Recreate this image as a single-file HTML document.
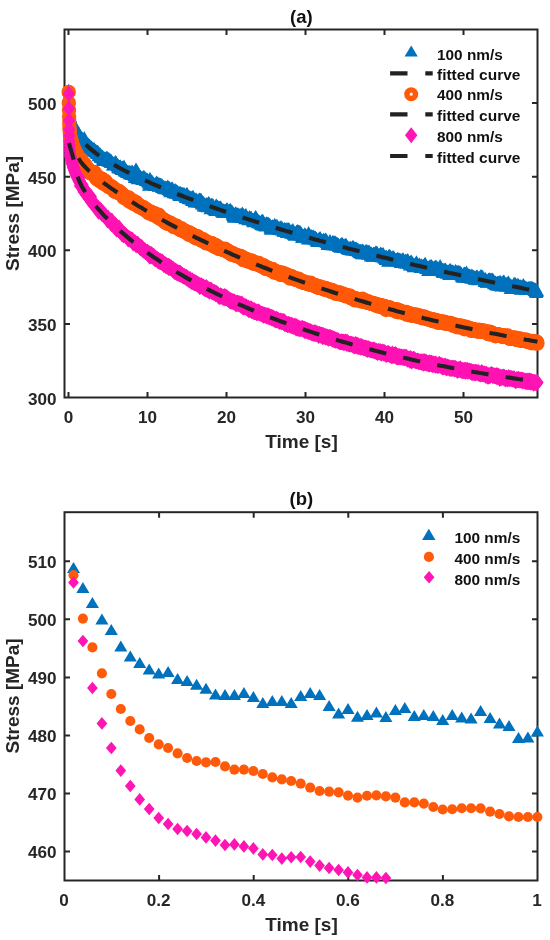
<!DOCTYPE html>
<html lang="en"><head><meta charset="utf-8"><title>Stress relaxation</title>
<style>
html,body{margin:0;padding:0;background:#fff;}
body{width:550px;height:940px;overflow:hidden;}
svg{display:block;}
text{font-family:"Liberation Sans",Arial,Helvetica,sans-serif;font-weight:bold;fill:#262626;}
.tk{font-size:17.1px;}
.lb{font-size:19px;}
.tt{font-size:18.5px;fill:#111;}
.lg{font-size:15.5px;fill:#111;}
</style></head><body>
<svg width="550" height="940" viewBox="0 0 550 940">
<defs>
<marker id="mt" markerUnits="userSpaceOnUse" markerWidth="14" markerHeight="12" refX="7" refY="6" overflow="visible"><path d="M7 -0.2L13.7 11.9H0.3Z" fill="#0072BD"/></marker>
<marker id="mc" markerUnits="userSpaceOnUse" markerWidth="16" markerHeight="16" refX="8" refY="8" overflow="visible"><circle cx="8" cy="8" r="4.45" fill="none" stroke="#FF5A0A" stroke-width="5.5"/></marker>
<marker id="md" markerUnits="userSpaceOnUse" markerWidth="12" markerHeight="16" refX="6" refY="8" overflow="visible"><path d="M6 0L12.2 8L6 16L-0.2 8Z" fill="#FF14B4"/></marker>
</defs>
<rect width="550" height="940" fill="#fff"/>

<g stroke="#262626" stroke-width="2" fill="none">
<rect x="64.5" y="29.5" width="473.0" height="368.0"/>
<path d="M68.5 397.5v-5.5 M68.5 29.5v5.5 M147.5 397.5v-5.5 M147.5 29.5v5.5 M226.5 397.5v-5.5 M226.5 29.5v5.5 M305.5 397.5v-5.5 M305.5 29.5v5.5 M384.5 397.5v-5.5 M384.5 29.5v5.5 M463.5 397.5v-5.5 M463.5 29.5v5.5 M64.5 323.9h5.5 M537.5 323.9h-5.5 M64.5 250.3h5.5 M537.5 250.3h-5.5 M64.5 176.7h5.5 M537.5 176.7h-5.5 M64.5 103.1h5.5 M537.5 103.1h-5.5"/>
</g>
<g id="chart-a">
<polyline fill="none" stroke="none" marker-start="url(#mt)" marker-mid="url(#mt)" marker-end="url(#mt)" points="68.7,89.9 68.8,95.1 69,98.8 69.1,103 69.3,105.7 69.4,109.9 69.6,112.4 69.8,114 69.9,115.7 70.1,116.7 70.2,116.3 70.4,118.1 70.6,118.6 70.7,119.5 70.9,120.6 71,122 71.2,122.1 71.3,122.1 71.5,121.6 71.7,122.6 71.8,124.2 72,123.7 72.1,123.7 72.3,124.2 72.5,122.4 72.6,121.7 72.8,122.2 72.9,124.9 73.1,126.9 73.2,125.7 73.4,127.7 73.6,127.2 73.7,126.6 73.9,127.7 74,125.9 74.2,125.4 74.3,127.5 74.5,127.2 74.7,127.5 74.8,128.5 75,127.6 75.1,128.3 75.3,128.6 75.5,128 75.6,129.1 75.8,129.9 75.9,130.3 76.1,131.1 76.2,131.1 76.4,131.2 76.6,132.6 76.7,131.7 76.9,131.3 77,133.6 77.2,134.5 77.3,132.5 77.5,133.4 77.7,134.9 77.8,134.4 78,135.7 78.1,133.3 78.3,134.2 78.5,132.6 78.6,135.8 78.8,133.7 78.9,132.7 79.1,135.1 79.2,135.1 79.4,136.9 79.6,134.8 79.7,135.3 79.9,135.9 80,137.3 80.2,136.5 80.3,138 80.5,137.9 80.7,137.4 80.8,137.9 81,138 81.1,137.4 81.3,139.3 81.5,137 81.6,139.4 81.8,139.2 81.9,138.3 82.1,138 82.2,138.9 82.4,139.9 82.6,140.7 82.7,140.7 82.9,141.6 83,140.5 83.2,141.2 83.4,139.6 83.5,141.5 83.7,140.7 83.8,139.7 84,140.9 84.1,140.2 84.3,137.3 84.5,140.5 84.6,139.7 84.8,142.7 84.9,144.6 85.1,142.1 85.2,142.7 85.4,142.7 85.6,143.4 85.7,143.7 85.9,144.5 86,142.6 86.2,144.9 86.4,142.5 86.5,143.6 86.7,144.5 86.8,144.2 87,143.1 87.1,143.6 87.3,144.1 87.5,144.5 87.6,145.5 87.8,143.1 87.9,144.4 88.1,144.2 88.2,144.2 88.4,144.4 88.6,145.6 88.7,145.2 88.9,145.9 89,146.1 89.2,147.5 89.4,144.8 89.5,147.9 89.7,146.8 89.8,147.2 90,146.7 90.1,145.8 90.3,147.1 90.5,146.8 90.6,147.7 90.8,146 90.9,148.5 91.1,147.6 91.3,147.1 91.4,147 91.6,147.2 91.7,147.4 91.9,148.2 92,148.9 92.2,148.7 92.4,147.6 92.7,148.5 92.9,148 93.1,148.9 93.4,150.7 93.6,149.8 93.9,149.1 94.1,148.2 94.3,149 94.6,148.9 94.8,151.3 95,150.3 95.3,151.1 95.5,150.2 95.8,151 96,152.3 96.2,150.5 96.5,151.2 96.7,151.2 96.9,153 97.2,151.4 97.4,151.4 97.7,151.2 97.9,151.2 98.1,153.1 98.4,155.3 98.6,152.5 98.8,154.5 99.1,154.2 99.3,153.2 99.5,154 99.8,154.1 100,154.1 100.3,156.8 100.5,153.7 100.7,156.2 101,156.3 101.2,155.5 101.4,156.3 101.7,156.9 101.9,156.3 102.2,157 102.4,157.6 102.6,155.6 102.9,159.1 103.1,160.2 103.3,159.1 103.6,159.1 103.8,157 104,158.3 104.3,157.7 104.5,158.4 104.8,160.2 105,158.7 105.2,159.4 105.5,157.6 105.7,158.5 105.9,158.5 106.2,157.7 106.4,157.4 106.7,159.8 106.9,157.2 107.1,157.3 107.4,157.5 107.6,159.8 107.8,160.7 108.1,159.3 108.3,158.5 108.6,158.6 108.8,159.8 109,158.2 109.3,160.6 109.5,160.8 109.7,160.1 110,160.9 110.2,161.1 110.4,161.8 110.7,159.5 110.9,161.5 111.2,160.4 111.4,160.6 111.6,161.9 111.9,162.2 112.1,162 112.3,161.8 112.6,162.1 112.8,164.3 113.1,164.6 113.3,163.3 113.5,163.7 113.8,162.4 114,163.2 114.2,163.9 114.5,162.8 114.7,162.9 115,163.7 115.2,162.6 115.4,161.2 115.7,162.3 115.9,161.7 116.1,163 116.4,162.8 116.6,163.5 116.8,164.3 117.1,164.5 117.3,164.5 117.6,165.1 117.8,166.3 118,166.6 118.3,167.5 118.5,164.9 118.7,166.2 119,166.2 119.2,166.7 119.5,166.1 119.7,166 119.9,167.2 120.2,166.6 120.4,165.5 120.6,168.1 120.9,168.1 121.1,167.1 121.4,168.9 121.6,167.7 121.8,169.2 122.1,167.9 122.3,167.1 122.5,167 122.8,166.7 123,167.7 123.2,167.9 123.5,168.1 123.7,168.1 124,165.7 124.2,169.6 124.4,168 124.7,170 124.9,170.8 125.1,169.9 125.4,169.3 125.6,169.8 125.9,170.4 126.1,170.4 126.3,170.6 126.6,170.4 126.8,172.2 127,171 127.3,171.9 127.5,170.9 127.7,171.4 128,171.4 128.2,172 128.5,172.4 128.7,171.9 128.9,171.2 129.2,171.2 129.4,173.3 129.6,171.6 129.9,171.5 130.1,173 130.4,172.8 130.6,172.5 130.8,171.6 131.1,174.1 131.3,172.3 131.5,172.4 131.8,171.6 132,170.8 132.3,171.3 132.5,173.4 132.7,173.7 133,173.5 133.2,172.9 133.4,172.5 133.7,173.4 133.9,172.6 134.1,174.8 134.4,175.2 134.6,177 134.9,175.6 135.1,174 135.3,173.5 135.6,171 135.8,173.5 136,173.8 136.3,175.3 136.5,175.7 136.8,176.1 137,176.5 137.2,177.5 137.5,178.3 137.7,175.9 137.9,176.3 138.2,175.1 138.4,177.6 138.7,177.3 138.9,176.9 139.1,175.3 139.4,176.6 139.6,176.1 139.8,176.4 140.1,176.2 140.3,177 140.5,176.3 140.8,177.8 141,177.5 141.3,177.1 141.5,177.6 141.7,177.7 142,179.1 142.2,178.4 142.4,179.1 142.7,178.1 142.9,176.6 143.2,178.2 143.4,176.3 143.6,177.7 143.9,177.7 144.1,176.3 144.3,177.2 144.6,177.6 144.8,177.6 145.1,177.7 145.3,179.7 145.5,179.3 145.8,180.2 146,179.3 146.2,179.7 146.5,178.5 146.7,178.9 146.9,179.4 147.2,179.2 147.4,179.3 147.7,179.2 147.9,181 148.1,181.5 148.4,181.1 148.6,180.5 148.8,181.5 149.1,182.8 149.3,179.9 149.6,180.4 149.8,180.4 150,178 150.3,180.9 150.5,180.3 150.7,182.4 151,181.2 151.2,180.6 151.4,181.2 151.7,181.9 151.9,181.5 152.2,182 152.4,181.1 152.6,182.1 152.9,182.8 153.1,183.9 153.3,183.1 153.6,183 153.8,184.1 154.1,184.5 154.3,185.2 154.5,184.8 154.8,183.8 155,184.3 155.2,184.3 155.5,184.8 155.7,184.6 156,183.7 156.2,182.2 156.4,183.3 156.7,181.7 156.9,183.8 157.1,184 157.4,182.6 157.6,184.9 157.8,185.2 158.1,184.3 158.3,185.6 158.6,185.8 158.8,182.9 159,184.9 159.3,184.3 159.5,184.5 159.7,185 160,183.7 160.2,184.1 160.5,184.1 160.7,184.2 160.9,185.1 161.2,184.1 161.4,184.7 161.6,186.6 161.9,186.3 162.1,187 162.4,184.9 162.6,186 162.8,186.2 163.1,186.8 163.3,186.3 163.5,187.8 163.8,187 164,187.1 164.2,187.1 164.5,187.8 164.7,186.8 165,188.3 165.2,187.5 165.4,187.1 165.7,186.7 165.9,187.3 166.1,187.7 166.4,187.7 166.6,187.4 166.9,188 167.1,187.2 167.3,188.3 167.6,187.3 167.8,185.6 168,188.9 168.3,188.2 168.5,187.3 168.8,188.3 169,187.6 169.2,190.3 169.5,188.9 169.7,187.1 169.9,189.3 170.2,189.1 170.4,191.4 170.6,189.3 170.9,188.5 171.1,190.6 171.4,190 171.6,189.8 171.8,187.8 172.1,189.9 172.3,191 172.5,187.8 172.8,190.9 173,189.7 173.3,192.3 173.5,190.6 173.7,190.1 174,191.4 174.2,190.7 174.4,190.1 174.7,191.3 174.9,190.3 175.1,189.1 175.4,192.8 175.6,190.8 175.9,190.9 176.1,192 176.3,190.4 176.6,190.4 176.8,191 177,190.9 177.3,191.5 177.5,192.6 177.8,191.5 178,192.7 178.2,193.3 178.5,192.3 178.7,193.9 178.9,193.2 179.2,195.1 179.4,194.3 179.7,193.6 179.9,192 180.1,193.1 180.4,192.2 180.6,193.8 180.8,193.3 181.1,193 181.3,194.7 181.5,194.5 181.8,193.2 182,194.8 182.3,193.4 182.5,193.5 182.7,194 183,193.3 183.2,193.6 183.4,193.8 183.7,195.2 183.9,195 184.2,193.5 184.4,195.3 184.6,194 184.9,194.8 185.1,195.6 185.3,195.2 185.6,197.2 185.8,195.3 186.1,193.9 186.3,196.3 186.5,194.9 186.8,195.2 187,193 187.2,196.9 187.5,196.9 187.7,197 187.9,197.2 188.2,198.1 188.4,196.5 188.7,197.7 188.9,196.4 189.1,196.9 189.4,198.4 189.6,197.9 189.8,196.3 190.1,198 190.3,197.6 190.6,197.2 190.8,198.5 191,198 191.3,197.2 191.5,197.7 191.7,200 192,196.7 192.2,198 192.5,197.8 192.7,197.4 192.9,195.9 193.2,196.9 193.4,197.6 193.6,198.9 193.9,198.6 194.1,198.6 194.3,201.1 194.6,201.5 194.8,200.7 195.1,199.4 195.3,200 195.5,199.4 195.8,200.1 196,198.5 196.2,200 196.5,200.1 196.7,199.5 197,200.8 197.2,200.9 197.4,200.7 197.7,201.6 197.9,200 198.1,201 198.4,201.1 198.6,200.7 198.8,201.2 199.1,198.9 199.3,198.8 199.6,200.5 199.8,200.6 200,201.9 200.3,200.4 200.5,199 200.7,200.6 201,199.3 201.2,199.4 201.5,203.7 201.7,201.8 201.9,202.2 202.2,202.1 202.4,203.2 202.6,201.8 202.9,203.3 203.1,202 203.4,202.2 203.6,205.3 203.8,205.6 204.1,204.6 204.3,204.1 204.5,204.1 204.8,203.2 205,205.3 205.2,204.8 205.5,204.9 205.7,204.7 206,205.5 206.2,205 206.4,205.2 206.7,203.3 206.9,204.9 207.1,206.3 207.4,203.7 207.6,204 207.9,204.9 208.1,204.9 208.3,204.2 208.6,202.2 208.8,204.2 209,202.8 209.3,203.3 209.5,205.2 209.8,204.8 210,206.1 210.2,208.3 210.5,206.3 210.7,206 210.9,204.5 211.2,204.5 211.4,204.1 211.6,204.6 211.9,204.2 212.1,204.7 212.4,205.4 212.6,204.7 212.8,204.4 213.1,204.7 213.3,206.7 213.5,206.8 213.8,208.3 214,208.9 214.3,208.2 214.5,209.2 214.7,207.1 215,210.2 215.2,208.9 215.4,207 215.7,205.7 215.9,206.8 216.2,204.6 216.4,205.2 216.6,206.5 216.9,206.1 217.1,206 217.3,207.6 217.6,206.3 217.8,207.9 218,207.3 218.3,206.9 218.5,208.1 218.8,206.7 219,209.3 219.2,207.1 219.5,209.7 219.7,207 219.9,208.5 220.2,206.8 220.4,206.6 220.7,208.1 220.9,208.8 221.1,207.4 221.4,210.3 221.6,209.3 221.8,210.5 222.1,211 222.3,211.4 222.5,209.2 222.8,212 223,211 223.3,210.3 223.5,210 223.7,209.5 224,210.1 224.2,212.1 224.4,211.1 224.7,210.1 224.9,210.3 225.2,211.9 225.4,210.1 225.6,209.7 225.9,211.5 226.1,210.7 226.3,210.2 226.6,209.3 226.8,208.5 227.1,208.6 227.3,209.3 227.5,209.7 227.8,210.5 228,211.1 228.2,211.7 228.5,212.1 228.7,211.2 228.9,210.1 229.2,211.1 229.4,210 229.7,209.9 229.9,210 230.1,209 230.4,209.4 230.6,210.5 230.8,211 231.1,210.5 231.3,211.9 231.6,211.4 231.8,210.8 232,211.7 232.3,213.5 232.5,211.4 232.7,213.6 233,214.7 233.2,215.6 233.5,214.1 233.7,216.8 233.9,215 234.2,214.3 234.4,214 234.6,214.3 234.9,213.6 235.1,213.2 235.3,214.4 235.6,212.6 235.8,212.5 236.1,214.4 236.3,214.7 236.5,215.6 236.8,213.7 237,215.6 237.2,215.2 237.5,216.3 237.7,213.4 238,215 238.2,214.9 238.4,213.8 238.7,214.7 238.9,216.6 239.1,214.9 239.4,214.4 239.6,215.6 239.9,215.6 240.1,215.4 240.3,214.1 240.6,215 240.8,216.5 241,215.2 241.3,215.3 241.5,216.6 241.7,217.2 242,214.4 242.2,212.8 242.5,213.5 242.7,213.6 242.9,214.2 243.2,215.1 243.4,214.8 243.6,214.9 243.9,216.2 244.1,215.6 244.4,216.5 244.6,215.7 244.8,218.3 245.1,216.3 245.3,214.6 245.5,214.5 245.8,215.3 246,214.5 246.2,215.6 246.5,216.2 246.7,218 247,217.3 247.2,217.4 247.4,217.3 247.7,217.6 247.9,218.7 248.1,218.4 248.4,219.3 248.6,217.5 248.9,218.6 249.1,217.9 249.3,217.8 249.6,216.1 249.8,216.7 250,218.8 250.3,219.1 250.5,217.8 250.8,218.2 251,217.3 251.2,217.4 251.5,217.4 251.7,219.2 251.9,219 252.2,219 252.4,219.2 252.6,220.4 252.9,220.4 253.1,219.5 253.4,221.4 253.6,219.8 253.8,219.3 254.1,220.4 254.3,219.7 254.5,218.8 254.8,219.2 255,217.4 255.3,217.6 255.5,216.2 255.7,219.3 256,216.6 256.2,219.3 256.4,218.4 256.7,218.6 256.9,219.6 257.2,220.4 257.4,221.1 257.6,222.3 257.9,221.1 258.1,221.4 258.3,220.2 258.6,221.2 258.8,220.9 259,220.8 259.3,221.7 259.5,221.9 259.8,222.4 260,222.8 260.2,222.2 260.5,221.9 260.7,223.5 260.9,221.5 261.2,222.5 261.4,224.3 261.7,220.3 261.9,221.9 262.1,222.8 262.4,220.5 262.6,224.3 262.8,219.9 263.1,223.9 263.3,224.3 263.6,224.2 263.8,223.5 264,224.3 264.3,223.3 264.5,225.1 264.7,223.7 265,224.5 265.2,225.5 265.4,223.5 265.7,224.1 265.9,224.2 266.2,222.8 266.4,225.1 266.6,224.3 266.9,222.5 267.1,223.9 267.3,223.1 267.6,223.2 267.8,223.7 268.1,223 268.3,224.7 268.5,223.3 268.8,224.8 269,224 269.2,225 269.5,223.9 269.7,224.5 269.9,224.4 270.2,226.7 270.4,227.6 270.7,228.8 270.9,227.9 271.1,226.8 271.4,226.1 271.6,226.4 271.8,226.1 272.1,227.4 272.3,227.1 272.6,225.5 272.8,225.8 273,227.5 273.3,226.6 273.5,226.1 273.7,227.2 274,225.6 274.2,225.7 274.5,225.4 274.7,224 274.9,227 275.2,225.5 275.4,226.2 275.6,226.1 275.9,227.6 276.1,226.6 276.3,226.6 276.6,225.2 276.8,226.6 277.1,225.3 277.3,227.2 277.5,227.2 277.8,226.7 278,228.8 278.2,227.6 278.5,227.6 278.7,227.6 279,227.8 279.2,229 279.4,229.1 279.7,227.1 279.9,229.2 280.1,228.4 280.4,228.7 280.6,228.2 280.9,226.5 281.1,226.6 281.3,229.5 281.6,228.2 281.8,227 282,229 282.3,228.9 282.5,228.1 282.7,228.1 283,229 283.2,230.7 283.5,230.5 283.7,230.2 283.9,230.6 284.2,230.6 284.4,228.1 284.6,229.5 284.9,228.8 285.1,228.4 285.4,229.3 285.6,229.9 285.8,229.9 286.1,229.2 286.3,230 286.5,232.1 286.8,229 287,228.3 287.3,229.8 287.5,230.1 287.7,230 288,228.8 288.2,230.6 288.4,228.9 288.7,228.4 288.9,228.8 289.1,229.3 289.4,230.3 289.6,230.8 289.9,230.8 290.1,232.1 290.3,231.6 290.6,232.7 290.8,230.6 291,230.4 291.3,232.5 291.5,230.5 291.8,231.2 292,231.3 292.2,230.9 292.5,231 292.7,232.6 292.9,229.3 293.2,232.5 293.4,233.9 293.6,232 293.9,232.3 294.1,233.4 294.4,234.8 294.6,232.6 294.8,233.8 295.1,233.6 295.3,234 295.5,233.3 295.8,233.4 296,232.2 296.3,232.3 296.5,231.3 296.7,231.1 297,231.2 297.2,231.1 297.4,230.1 297.7,233 297.9,231.6 298.2,230.6 298.4,232.9 298.6,231.1 298.9,231.7 299.1,231.2 299.3,231.5 299.6,231.7 299.8,231.6 300,232.8 300.3,234.9 300.5,231.4 300.8,233.6 301,234.3 301.2,233.2 301.5,233.3 301.7,236.8 301.9,234.8 302.2,236.9 302.4,235.4 302.7,234.8 302.9,235.4 303.1,235.4 303.4,236.1 303.6,235.5 303.8,235.2 304.1,234.9 304.3,235.9 304.6,235.3 304.8,233.5 305,233.9 305.3,235.2 305.5,234.6 305.7,235.2 306,235.1 306.2,235.8 306.4,236.1 306.7,236.4 306.9,235.4 307.2,237.3 307.4,235.5 307.6,238.7 307.9,236.8 308.1,236.2 308.3,234.7 308.6,232.3 308.8,234.4 309.1,234.7 309.3,236.6 309.5,234.5 309.8,238.1 310,236.9 310.2,238.4 310.5,235.6 310.7,237.7 311,237.2 311.2,237.7 311.4,236.7 311.7,235.3 311.9,237 312.1,236.4 312.4,236.4 312.6,236.7 312.8,237 313.1,236.4 313.3,235.7 313.6,235.9 313.8,238.7 314,238.1 314.3,237.5 314.5,236.8 314.7,237.2 315,237.2 315.2,237 315.5,236.9 315.7,239.7 315.9,238.3 316.2,238.2 316.4,237.9 316.6,238.7 316.9,240.6 317.1,241 317.3,239.9 317.6,240.3 317.8,240.1 318.1,239 318.3,240.7 318.5,239.7 318.8,241.2 319,238.1 319.2,238.5 319.5,239.5 319.7,238.4 320,237.2 320.2,237.7 320.4,238.9 320.7,239.3 320.9,239.4 321.1,240.9 321.4,241.2 321.6,240.7 321.9,240.5 322.1,240.1 322.3,240.7 322.6,241.1 322.8,240.3 323,240.6 323.3,240 323.5,238.9 323.7,239 324,240.6 324.2,240.4 324.5,241.3 324.7,239.9 324.9,240.5 325.2,240.5 325.4,240 325.6,238.7 325.9,239.3 326.1,240 326.4,239.7 326.6,241.5 326.8,242.2 327.1,241.2 327.3,244 327.5,242.4 327.8,242.9 328,243.4 328.3,243.2 328.5,244 328.7,243.2 329,244.2 329.2,242.7 329.4,242.1 329.7,241.1 329.9,240.3 330.1,241.7 330.4,241.4 330.6,243.4 330.9,242.9 331.1,244.4 331.3,243.6 331.6,243.6 331.8,242.9 332,242.6 332.3,242.7 332.5,242.7 332.8,241 333,242.2 333.2,244.3 333.5,242.2 333.7,242.2 333.9,242.1 334.2,241.4 334.4,243.6 334.7,242.6 334.9,242.6 335.1,243.8 335.4,244.5 335.6,241.7 335.8,243.4 336.1,243.3 336.3,243.4 336.5,243.6 336.8,243.1 337,244.7 337.3,243.7 337.5,243.3 337.7,244 338,244 338.2,243.9 338.4,244.1 338.7,246 338.9,245.5 339.2,245.4 339.4,245.1 339.6,245.9 339.9,245.5 340.1,246.5 340.3,246.5 340.6,244 340.8,245.5 341,245.7 341.3,244.8 341.5,243.5 341.8,245.3 342,243.5 342.2,243.1 342.5,243.7 342.7,245.2 342.9,246.5 343.2,246.9 343.4,246.1 343.7,244.8 343.9,245.4 344.1,245.4 344.4,246.1 344.6,244.8 344.8,246.4 345.1,246.4 345.3,245.2 345.6,245.6 345.8,244.2 346,243.9 346.3,245.3 346.5,247.3 346.7,247.4 347,246.4 347.2,248 347.4,246.5 347.7,248.3 347.9,247.7 348.2,247.3 348.4,248.9 348.6,248.1 348.9,248.2 349.1,247.7 349.3,248.9 349.6,248.1 349.8,247.6 350.1,247.2 350.3,248.7 350.5,247.1 350.8,247.1 351,249.1 351.2,249.5 351.5,249 351.7,247.4 352,248.4 352.2,249.4 352.4,248.5 352.7,249.2 352.9,246 353.1,247.8 353.4,246.7 353.6,248.6 353.8,248 354.1,249.5 354.3,248 354.6,247.4 354.8,247.9 355,248.1 355.3,247.6 355.5,249.8 355.7,250 356,248.9 356.2,248 356.5,248.8 356.7,248.3 356.9,250.4 357.2,249.8 357.4,250.2 357.6,249.9 357.9,248.8 358.1,250.2 358.4,249.8 358.6,251.3 358.8,251 359.1,250.2 359.3,250.6 359.5,252.4 359.8,250.1 360,250 360.2,250.5 360.5,250.1 360.7,250.6 361,251.9 361.2,253.4 361.4,250.3 361.7,251.8 361.9,251.4 362.1,250.7 362.4,249.9 362.6,249.7 362.9,251 363.1,250.3 363.3,251.2 363.6,252.1 363.8,252.6 364,252.5 364.3,253.3 364.5,252.1 364.7,251.9 365,251.6 365.2,250.6 365.5,250.7 365.7,250.5 365.9,251.7 366.2,250.7 366.4,250.5 366.6,251.8 366.9,252.2 367.1,250.4 367.4,253.6 367.6,252.2 367.8,252 368.1,253 368.3,251.8 368.5,251.1 368.8,253.5 369,250.6 369.3,251.8 369.5,253 369.7,251.7 370,253 370.2,253.8 370.4,255.7 370.7,252.8 370.9,253.5 371.1,254.2 371.4,253.7 371.6,252.8 371.9,254.8 372.1,254.8 372.3,255.3 372.6,255.8 372.8,255.4 373,254.3 373.3,254 373.5,252.6 373.8,253.6 374,254.1 374.2,253.6 374.5,254 374.7,253 374.9,254.7 375.2,254.8 375.4,252.3 375.7,252.6 375.9,251.8 376.1,253 376.4,252.2 376.6,251.9 376.8,252.2 377.1,253 377.3,252.7 377.5,254.8 377.8,254 378,255.1 378.3,254.9 378.5,256 378.7,254.9 379,255.7 379.2,254.1 379.4,255.3 379.7,254.2 379.9,254.4 380.2,254.3 380.4,255.1 380.6,252.6 380.9,255 381.1,253.9 381.3,256.4 381.6,253.5 381.8,254.6 382.1,253.9 382.3,256.4 382.5,253.6 382.8,254.9 383,254.4 383.2,253.3 383.5,255.2 383.7,256.6 383.9,256.2 384.2,257.5 384.4,256.9 384.7,257.3 384.9,257.1 385.1,257.8 385.4,259.1 385.6,257 385.8,256.7 386.1,255.9 386.3,255.9 386.6,258.1 386.8,256.7 387,257.4 387.3,258.6 387.5,258.5 387.7,260.8 388,256.6 388.2,258.5 388.4,258 388.7,255.6 388.9,255.4 389.2,255.8 389.4,256.9 389.6,255.2 389.9,255.3 390.1,258.3 390.3,259.7 390.6,258.6 390.8,257 391.1,260.3 391.3,258.6 391.5,259.3 391.8,257.8 392,257.3 392.2,257.1 392.5,258.9 392.7,259 393,256.1 393.2,257.3 393.4,259.6 393.7,257.6 393.9,256.8 394.1,258.3 394.4,258.5 394.6,259.3 394.8,259.3 395.1,259.6 395.3,259.4 395.6,260.1 395.8,258.9 396,259.4 396.3,259.5 396.5,260.6 396.7,259.5 397,258.6 397.2,258.7 397.5,258.2 397.7,258.8 397.9,258.4 398.2,259.8 398.4,259.6 398.6,258.6 398.9,258.4 399.1,259.7 399.4,259.8 399.6,259.7 399.8,259.1 400.1,259.2 400.3,261.5 400.5,261.8 400.8,261.5 401,259.3 401.2,261.4 401.5,259.9 401.7,260.8 402,261.3 402.2,260.4 402.4,260.2 402.7,258.8 402.9,259.7 403.1,258.5 403.4,260.5 403.6,260.6 403.9,261.9 404.1,261.9 404.3,261.5 404.6,262.5 404.8,261.6 405,262 405.3,261.3 405.5,259.7 405.8,260.6 406,260.8 406.2,260.6 406.5,261.8 406.7,262.6 406.9,260.7 407.2,260.8 407.4,259.3 407.6,261.3 407.9,261.3 408.1,259.9 408.4,262.1 408.6,262.7 408.8,262.1 409.1,262.8 409.3,262.8 409.5,264.6 409.8,262.3 410,262.7 410.3,264.2 410.5,261.8 410.7,261.9 411,261.3 411.2,260.7 411.4,261.9 411.7,262.7 411.9,261.7 412.1,263.3 412.4,264.6 412.6,265.1 412.9,263.1 413.1,264.1 413.3,263.8 413.6,266.3 413.8,265.7 414,265.9 414.3,264.5 414.5,264.1 414.8,265.4 415,265.5 415.2,264.5 415.5,265.1 415.7,265.3 415.9,264.3 416.2,262.8 416.4,261.5 416.7,263 416.9,263.4 417.1,263.4 417.4,263.6 417.6,263.9 417.8,265.5 418.1,265.3 418.3,265.6 418.5,264.6 418.8,264.6 419,265.1 419.3,264.1 419.5,263.8 419.7,264.7 420,266.5 420.2,265.9 420.4,266.9 420.7,265.6 420.9,265.4 421.2,264.4 421.4,265.1 421.6,266.9 421.9,265.9 422.1,266.3 422.3,266.3 422.6,265.5 422.8,265.5 423.1,265.7 423.3,266.3 423.5,266.1 423.8,266 424,265.3 424.2,264.3 424.5,264.3 424.7,263.6 424.9,265.5 425.2,262.9 425.4,265 425.7,267.8 425.9,265.7 426.1,265.4 426.4,266.8 426.6,268.1 426.8,267 427.1,267.8 427.3,267.3 427.6,266.9 427.8,270.2 428,267.3 428.3,266.8 428.5,266.9 428.7,267.6 429,267.4 429.2,267.9 429.5,267.2 429.7,265.7 429.9,267.5 430.2,266.9 430.4,266.7 430.6,265.4 430.9,266.1 431.1,265.7 431.3,266.1 431.6,265.1 431.8,267.1 432.1,267.6 432.3,267.2 432.5,268.3 432.8,268.4 433,270.1 433.2,267.2 433.5,268.9 433.7,267.4 434,268.3 434.2,268.9 434.4,267.1 434.7,267.5 434.9,266.4 435.1,268.6 435.4,267.7 435.6,268 435.8,265.8 436.1,266.1 436.3,268.4 436.6,267.4 436.8,267.5 437,268.3 437.3,267.1 437.5,269 437.7,268.6 438,269.3 438.2,268.3 438.5,269.4 438.7,268.6 438.9,270 439.2,269.9 439.4,269.6 439.6,268.9 439.9,268.4 440.1,265.2 440.4,268.3 440.6,267.3 440.8,267.9 441.1,268 441.3,267.4 441.5,268.5 441.8,270 442,271.1 442.2,269.5 442.5,269.5 442.7,271.8 443,269.5 443.2,272 443.4,270.1 443.7,269.1 443.9,270.9 444.1,271.8 444.4,269 444.6,271.8 444.9,270.2 445.1,271.5 445.3,269.8 445.6,268.7 445.8,270.7 446,271.2 446.3,272.6 446.5,272.3 446.8,271.4 447,270.8 447.2,270.9 447.5,271.5 447.7,271.5 447.9,272.5 448.2,270.4 448.4,272.7 448.6,272.1 448.9,274 449.1,271.7 449.4,270.4 449.6,271.1 449.8,269.5 450.1,270 450.3,269.2 450.5,272.3 450.8,271.6 451,270.1 451.3,271.2 451.5,272.1 451.7,271.6 452,271.6 452.2,270.6 452.4,270.8 452.7,271.6 452.9,272.5 453.2,271.2 453.4,271.3 453.6,273.7 453.9,272.1 454.1,274.2 454.3,273.2 454.6,273.3 454.8,273.6 455,272.1 455.3,271.7 455.5,270.2 455.8,270.5 456,272 456.2,273 456.5,272.9 456.7,273.7 456.9,271.9 457.2,271.7 457.4,272.3 457.7,271.5 457.9,271.6 458.1,270.9 458.4,273.1 458.6,271.7 458.8,273.4 459.1,271.8 459.3,273.8 459.5,271.9 459.8,273.5 460,271.4 460.3,272.4 460.5,274.4 460.7,272.9 461,274.1 461.2,274 461.4,272.9 461.7,275.6 461.9,276 462.2,274.8 462.4,276.5 462.6,275.2 462.9,274.8 463.1,275.5 463.3,274.6 463.6,276.8 463.8,273.1 464.1,275.1 464.3,275.4 464.5,272.6 464.8,273 465,275.1 465.2,274 465.5,274.6 465.7,275.3 465.9,273.9 466.2,273.1 466.4,271.8 466.7,274.4 466.9,273.6 467.1,274.8 467.4,275.1 467.6,273.7 467.8,276.8 468.1,276.4 468.3,276.4 468.6,274.5 468.8,275.4 469,275.3 469.3,275.2 469.5,274.6 469.7,276.2 470,276.1 470.2,276.4 470.5,276 470.7,277.6 470.9,276.8 471.2,274.6 471.4,276.6 471.6,277 471.9,277.6 472.1,276.1 472.3,275.7 472.6,275.1 472.8,276.5 473.1,276 473.3,276.3 473.5,276.8 473.8,278.3 474,277.4 474.2,276.4 474.5,278.6 474.7,277.1 475,277.9 475.2,278 475.4,278.7 475.7,278.2 475.9,276.7 476.1,277.1 476.4,275.8 476.6,278.3 476.9,277.3 477.1,278.5 477.3,277.1 477.6,275.9 477.8,279.4 478,278.2 478.3,278.3 478.5,278.4 478.7,279 479,278.9 479.2,276.9 479.5,278.9 479.7,277.1 479.9,277 480.2,278.7 480.4,277.7 480.6,276.7 480.9,275.2 481.1,276.8 481.4,277.2 481.6,276.5 481.8,275.6 482.1,276.2 482.3,275.9 482.5,277.4 482.8,278.3 483,278.5 483.2,277.2 483.5,278.4 483.7,279 484,278.1 484.2,279 484.4,281.2 484.7,279.7 484.9,280.5 485.1,279.6 485.4,279.9 485.6,278.3 485.9,279.8 486.1,281 486.3,281.8 486.6,281.3 486.8,281.3 487,280.9 487.3,280.4 487.5,280.9 487.8,281.3 488,279.7 488.2,281.2 488.5,279.3 488.7,278.7 488.9,279.4 489.2,278.6 489.4,278.7 489.6,280.8 489.9,279.3 490.1,279.4 490.4,280.3 490.6,280.3 490.8,278.7 491.1,280.6 491.3,280 491.5,279.8 491.8,280.3 492,278.6 492.3,279 492.5,279.4 492.7,280 493,279.3 493.2,280 493.4,281.5 493.7,282.6 493.9,282.5 494.2,283.3 494.4,281.8 494.6,281.8 494.9,282.2 495.1,281.8 495.3,281.8 495.6,284 495.8,282.6 496,282.1 496.3,283.4 496.5,284.6 496.8,282.9 497,283.8 497.2,282.3 497.5,282.2 497.7,282.2 497.9,282.7 498.2,284.6 498.4,282 498.7,284.5 498.9,282 499.1,282.5 499.4,283.2 499.6,282.8 499.8,282.4 500.1,280.9 500.3,282.9 500.6,282 500.8,285.5 501,283.2 501.3,283.5 501.5,282.5 501.7,283.1 502,282.4 502.2,284.2 502.4,283 502.7,283.3 502.9,281.7 503.2,281.7 503.4,283.3 503.6,281 503.9,280.7 504.1,283.1 504.3,281.9 504.6,283 504.8,284.9 505.1,283.5 505.3,285.3 505.5,284 505.8,285.7 506,285.3 506.2,283.6 506.5,283.7 506.7,283.2 506.9,284.2 507.2,285.2 507.4,282.8 507.7,284.7 507.9,282.6 508.1,282.8 508.4,281.7 508.6,285.2 508.8,283.6 509.1,284.1 509.3,283.7 509.6,285.8 509.8,283.7 510,285.9 510.3,288 510.5,285.7 510.7,286.1 511,286.4 511.2,284.9 511.5,285.9 511.7,286.8 511.9,286.1 512.2,286.2 512.4,285.7 512.6,286 512.9,285.7 513.1,286.8 513.3,286.4 513.6,285.4 513.8,283.5 514.1,286.3 514.3,286.1 514.5,284.1 514.8,282.9 515,283.5 515.2,285.3 515.5,283.5 515.7,284.2 516,285.1 516.2,286.2 516.4,285.1 516.7,285.3 516.9,285 517.1,286.8 517.4,286.3 517.6,285.2 517.9,284 518.1,284.5 518.3,286 518.6,285 518.8,286.7 519,286.2 519.3,286.3 519.5,286.6 519.7,286.5 520,285.2 520.2,286.1 520.5,288.8 520.7,285.7 520.9,286.7 521.2,288.3 521.4,287 521.6,286.4 521.9,286 522.1,287.4 522.4,287.3 522.6,287.3 522.8,285.8 523.1,286.3 523.3,284.3 523.5,285.7 523.8,285.1 524,286.2 524.3,287.3 524.5,287.9 524.7,286.4 525,288.7 525.2,287.4 525.4,286.9 525.7,287.7 525.9,286.6 526.1,288.1 526.4,288.3 526.6,288 526.9,289 527.1,288.6 527.3,289 527.6,287.8 527.8,289 528,287.7 528.3,288 528.5,288.2 528.8,288.5 529,287 529.2,287.2 529.5,287.9 529.7,288.1 529.9,287.7 530.2,288 530.4,288.2 530.6,287.7 530.9,287.7 531.1,287 531.4,287.2 531.6,287.7 531.8,288.3 532.1,288.1 532.3,287.7 532.5,287.5 532.8,288.3 533,288.1 533.3,288.4 533.5,288.7 533.7,288.3 534,288.1 534.2,289.8 534.4,289.8 534.7,289.3 534.9,289.1 535.2,291.5 535.4,288.7 535.6,289.5 535.9,290.3 536.1,289.3 536.3,290.6 536.6,292.2 536.8,291.1 537,290.5 537.3,290.3"/>
<path fill="#0072BD" d="M148.6 179.4l6.7 11.3h-13.4zM136 162.4l6.7 11.3h-13.4z"/>
<polyline fill="none" stroke="#222" stroke-width="4.1" stroke-dasharray="17.4 17.4" stroke-dashoffset="2.14" points="68.5,117.5 68.9,119.5 69.3,121.3 69.7,122.7 70.1,123.8 70.5,124.7 70.9,125.5 71.3,126.2 71.7,126.9 72.1,127.4 72.5,127.9 72.8,128.3 73.2,128.8 73.6,129.1 74,129.5 74.4,129.9 74.8,130.3 75.2,130.8 75.6,131.3 76,131.9 76.4,132.6 76.8,133.2 77.2,133.8 77.6,134.4 78,135 78.4,135.6 78.8,136.2 79.2,136.7 79.6,137.3 80,137.8 80.3,138.3 80.7,138.8 81.1,139.3 81.5,139.8 81.9,140.3 82.3,140.7 82.7,141.2 83.1,141.6 83.5,142.1 83.9,142.5 84.3,142.9 84.7,143.4 85.1,143.8 85.5,144.2 85.9,144.6 86.3,145 86.7,145.4 87.1,145.7 87.5,146.1 87.9,146.5 88.2,146.9 88.6,147.2 89,147.6 89.4,147.9 89.8,148.3 90.2,148.6 90.6,149 91,149.3 91.4,149.6 91.8,150 92.2,150.3 94.6,152.2 96.9,154 99.3,155.7 101.7,157.3 104,158.9 106.4,160.4 108.8,161.8 111.2,163.2 113.5,164.6 115.9,165.9 118.3,167.2 120.6,168.5 123,169.8 125.4,171 127.7,172.2 130.1,173.4 132.5,174.5 134.9,175.7 137.2,176.8 139.6,177.9 142,179 144.3,180.1 146.7,181.2 149.1,182.2 151.4,183.3 153.8,184.3 156.2,185.3 158.6,186.3 160.9,187.3 163.3,188.3 165.7,189.3 168,190.3 170.4,191.2 172.8,192.2 175.1,193.2 177.5,194.1 179.9,195 182.3,196 184.6,196.9 187,197.8 189.4,198.7 191.7,199.6 194.1,200.5 196.5,201.4 198.8,202.2 201.2,203.1 203.6,204 206,204.8 208.3,205.7 210.7,206.5 213.1,207.4 215.4,208.2 217.8,209 220.2,209.9 222.5,210.7 224.9,211.5 227.3,212.3 229.7,213.1 232,213.9 234.4,214.7 236.8,215.5 239.1,216.3 241.5,217.1 243.9,217.9 246.2,218.6 248.6,219.4 251,220.2 253.4,220.9 255.7,221.7 258.1,222.4 260.5,223.2 262.8,223.9 265.2,224.7 267.6,225.4 269.9,226.1 272.3,226.9 274.7,227.6 277.1,228.3 279.4,229 281.8,229.7 284.2,230.4 286.5,231.1 288.9,231.8 291.3,232.5 293.6,233.2 296,233.9 298.4,234.6 300.8,235.3 303.1,236 305.5,236.7 307.9,237.3 310.2,238 312.6,238.7 315,239.4 317.3,240 319.7,240.7 322.1,241.3 324.5,242 326.8,242.6 329.2,243.3 331.6,243.9 333.9,244.6 336.3,245.2 338.7,245.9 341,246.5 343.4,247.1 345.8,247.7 348.2,248.4 350.5,249 352.9,249.6 355.3,250.2 357.6,250.8 360,251.5 362.4,252.1 364.7,252.7 367.1,253.3 369.5,253.9 371.9,254.5 374.2,255.1 376.6,255.7 379,256.3 381.3,256.9 383.7,257.4 386.1,258 388.4,258.6 390.8,259.2 393.2,259.8 395.6,260.3 397.9,260.9 400.3,261.5 402.7,262.1 405,262.6 407.4,263.2 409.8,263.8 412.1,264.3 414.5,264.9 416.9,265.4 419.3,266 421.6,266.5 424,267.1 426.4,267.6 428.7,268.2 431.1,268.7 433.5,269.3 435.8,269.8 438.2,270.3 440.6,270.9 443,271.4 445.3,271.9 447.7,272.5 450.1,273 452.4,273.5 454.8,274 457.2,274.6 459.5,275.1 461.9,275.6 464.3,276.1 466.7,276.6 469,277.1 471.4,277.7 473.8,278.2 476.1,278.7 478.5,279.2 480.9,279.7 483.2,280.2 485.6,280.7 488,281.2 490.4,281.7 492.7,282.2 495.1,282.7 497.5,283.2 499.8,283.6 502.2,284.1 504.6,284.6 506.9,285.1 509.3,285.6 511.7,286.1 514.1,286.5 516.4,287 518.8,287.5 521.2,288 523.5,288.5 525.9,288.9 528.3,289.4 530.6,289.9 533,290.3 535.4,290.8 537.4,291.2"/>
<polyline fill="none" stroke="none" marker-start="url(#mc)" marker-mid="url(#mc)" marker-end="url(#mc)" points="68.7,91.9 68.8,102.9 69,110.2 69.1,116.8 69.3,122 69.4,125.8 69.6,128.9 69.8,131 69.9,133.2 70.1,134.8 70.2,135.7 70.4,137.1 70.6,138.3 70.7,139 70.9,139.4 71,139.3 71.2,140.4 71.3,141.2 71.5,141.2 71.7,141.6 71.8,142.3 72,143.2 72.1,143.7 72.3,144.1 72.5,144.8 72.6,145.8 72.8,146.6 72.9,146.8 73.1,147 73.2,147.8 73.4,148.3 73.6,147.9 73.7,147.8 73.9,148 74,148.3 74.2,149.5 74.3,149.5 74.5,149.8 74.7,150.7 74.8,151.2 75,151.3 75.1,151.2 75.3,151.4 75.5,151.7 75.6,152.3 75.8,152.8 75.9,153.2 76.1,153.5 76.2,153.9 76.4,154.2 76.6,155.2 76.7,155.7 76.9,154.3 77,157.2 77.2,155.2 77.3,157.4 77.5,156.9 77.7,156 77.8,158.4 78,157.3 78.1,157.6 78.3,158 78.5,157.8 78.6,157.7 78.8,159 78.9,158.3 79.1,159.1 79.2,158.5 79.4,157.9 79.6,159.2 79.7,159.7 79.9,160.7 80,162.3 80.2,159.4 80.3,161.6 80.5,159.1 80.7,160.4 80.8,160.9 81,159.2 81.1,159.8 81.3,162.1 81.5,162.2 81.6,162.2 81.8,161.7 81.9,164.9 82.1,162.6 82.2,162.1 82.4,165.1 82.6,164.2 82.7,163.4 82.9,165.3 83,164.4 83.2,165 83.4,164.7 83.5,163.4 83.7,165.7 83.8,165 84,163.9 84.1,164.1 84.3,166 84.5,164.5 84.6,165 84.8,165.8 84.9,165.6 85.1,164.3 85.2,166.9 85.4,167.4 85.6,167.6 85.7,168.4 85.9,167.1 86,167.8 86.2,168.9 86.4,167.1 86.5,169.5 86.7,169.9 86.8,169.1 87,170.3 87.1,169.6 87.3,168 87.5,170.3 87.6,169.6 87.8,170 87.9,169.9 88.1,171.2 88.2,170.5 88.4,169.3 88.6,170.6 88.7,171.2 88.9,170 89,170.5 89.2,170.7 89.4,170.6 89.5,171.5 89.7,172.2 89.8,173.1 90,172.5 90.1,172.4 90.3,172.6 90.5,172.7 90.6,171.1 90.8,172.2 90.9,172 91.1,171.7 91.3,171.6 91.4,171.8 91.6,172.3 91.7,171.6 91.9,173.5 92,173.1 92.2,173.3 92.5,173.8 92.8,174.3 93.1,173.3 93.5,173.8 93.8,172.4 94.1,171.9 94.4,172.4 94.7,176 95,173.2 95.4,176 95.7,177.5 96,176 96.3,178.4 96.6,178.8 96.9,178 97.3,179.5 97.6,178 97.9,176.9 98.2,178.4 98.5,177.8 98.8,177.2 99.2,177.5 99.5,181.2 99.8,178.6 100.1,179.2 100.4,178.6 100.7,179.3 101,179 101.4,179.1 101.7,178.6 102,178.9 102.3,180.1 102.6,181.5 102.9,183.4 103.3,182.9 103.6,183.7 103.9,182.6 104.2,182.2 104.5,181.1 104.8,182.4 105.2,180.7 105.5,182.6 105.8,184.6 106.1,183.7 106.4,184.8 106.7,183.8 107.1,183.2 107.4,184.2 107.7,184.6 108,186.2 108.3,187 108.6,184.9 108.9,185.6 109.3,186.1 109.6,186.3 109.9,185.9 110.2,187.3 110.5,187.7 110.8,187.9 111.2,186.6 111.5,187.6 111.8,186.4 112.1,189 112.4,187.7 112.7,188.7 113.1,188.8 113.4,188.9 113.7,188.7 114,188.2 114.3,191.3 114.6,190.3 115,190.4 115.3,192 115.6,190.3 115.9,191 116.2,190.7 116.5,191.9 116.8,191.6 117.2,191.6 117.5,191.4 117.8,192 118.1,193 118.4,190.6 118.7,192.5 119.1,192.4 119.4,192.7 119.7,191.5 120,193.9 120.3,192.8 120.6,193.6 121,193.7 121.3,193.1 121.6,194.4 121.9,193.6 122.2,194.7 122.5,195.4 122.9,195.8 123.2,196 123.5,196 123.8,198 124.1,196.9 124.4,195.8 124.7,196.5 125.1,196.7 125.4,197.2 125.7,196.9 126,196.9 126.3,199 126.6,198 127,198 127.3,198.2 127.6,198.5 127.9,200.1 128.2,199.7 128.5,200.5 128.9,197.5 129.2,200.4 129.5,201 129.8,201.9 130.1,200.4 130.4,199.2 130.8,201.1 131.1,200.3 131.4,199.6 131.7,200.8 132,202.3 132.3,202.6 132.6,202.4 133,201.1 133.3,203.8 133.6,201.1 133.9,202.1 134.2,201.3 134.5,203.7 134.9,203.3 135.2,203.8 135.5,203.3 135.8,203.3 136.1,203.6 136.4,202.3 136.8,204.8 137.1,205.1 137.4,204.5 137.7,205.1 138,205.6 138.3,206.7 138.7,205.9 139,205.8 139.3,205.7 139.6,205.2 139.9,206.1 140.2,206.9 140.5,206.9 140.9,207.2 141.2,207.8 141.5,207.7 141.8,207.7 142.1,208.1 142.4,208 142.8,208 143.1,208.6 143.4,207.1 143.7,209.3 144,207.5 144.3,209.1 144.7,208.6 145,209.5 145.3,209 145.6,208.6 145.9,210.5 146.2,210.3 146.6,210.7 146.9,211 147.2,211.8 147.5,211.8 147.8,211.5 148.1,210.3 148.4,211.3 148.8,211.9 149.1,213.4 149.4,212.6 149.7,212.4 150,213.4 150.3,212.5 150.7,212.6 151,212.8 151.3,211.8 151.6,213.8 151.9,213.7 152.2,213.4 152.6,213 152.9,214.1 153.2,215.1 153.5,213.7 153.8,213.6 154.1,214.8 154.5,213.6 154.8,213.3 155.1,214.8 155.4,214.9 155.7,215.4 156,215.4 156.3,216.2 156.7,216 157,215.9 157.3,216.2 157.6,217.1 157.9,217.5 158.2,217.6 158.6,217.5 158.9,214.8 159.2,216.5 159.5,217.2 159.8,217.7 160.1,216.7 160.5,219.2 160.8,218.7 161.1,218.3 161.4,219.1 161.7,218.9 162,218.7 162.4,219.7 162.7,219.3 163,218.9 163.3,219.7 163.6,220.3 163.9,219.9 164.2,221.7 164.6,220.2 164.9,222.3 165.2,221.9 165.5,220.8 165.8,221.7 166.1,222.6 166.5,221.7 166.8,221.2 167.1,222.3 167.4,223.8 167.7,221.6 168,223.3 168.4,223.1 168.7,223.1 169,223.1 169.3,223.2 169.6,224.2 169.9,224.1 170.3,223 170.6,224.7 170.9,222.9 171.2,224.3 171.5,224.1 171.8,225 172.1,224.6 172.5,225.2 172.8,224.7 173.1,225.7 173.4,225.5 173.7,227.1 174,225.5 174.4,226.9 174.7,226.5 175,226.3 175.3,225.9 175.6,226.7 175.9,225.6 176.3,225.8 176.6,227.4 176.9,226 177.2,228 177.5,227 177.8,227.5 178.2,227.5 178.5,227.9 178.8,227.8 179.1,228 179.4,228.4 179.7,229.5 180,229.8 180.4,230 180.7,229.5 181,229.2 181.3,228.2 181.6,229.8 181.9,230.1 182.3,229.5 182.6,230.5 182.9,231 183.2,230.5 183.5,231.4 183.8,231.1 184.2,230.1 184.5,231.2 184.8,231.3 185.1,232.1 185.4,231.2 185.7,231.5 186.1,231.3 186.4,232.1 186.7,232.3 187,233 187.3,233 187.6,232.8 187.9,233.1 188.3,233.3 188.6,233.7 188.9,234.8 189.2,232.3 189.5,233.9 189.8,234.2 190.2,234.7 190.5,233.4 190.8,234.6 191.1,235.1 191.4,234.6 191.7,233.8 192.1,234.9 192.4,234.4 192.7,235.7 193,234.8 193.3,236.6 193.6,235.7 194,235.4 194.3,235.8 194.6,235.6 194.9,236.9 195.2,237.8 195.5,236.9 195.8,237.7 196.2,236.6 196.5,237.4 196.8,238.6 197.1,236.3 197.4,238.1 197.7,238.2 198.1,236.5 198.4,237 198.7,237.4 199,238.9 199.3,238.1 199.6,238.5 200,239.3 200.3,239.2 200.6,239.5 200.9,239.4 201.2,240.4 201.5,239.2 201.9,240.8 202.2,239.6 202.5,239.4 202.8,240.5 203.1,240.6 203.4,239.3 203.7,240.9 204.1,240.1 204.4,240.7 204.7,241.9 205,240.9 205.3,241.9 205.6,241.7 206,243.3 206.3,242.2 206.6,241.7 206.9,241.9 207.2,242 207.5,242.6 207.9,242.5 208.2,243.2 208.5,242.9 208.8,243.1 209.1,243.4 209.4,243.3 209.8,243.8 210.1,244.1 210.4,244.3 210.7,243.6 211,243 211.3,243.9 211.6,244.8 212,243.2 212.3,244.7 212.6,245.3 212.9,244.6 213.2,244.3 213.5,246.1 213.9,246 214.2,245.1 214.5,246.2 214.8,246.3 215.1,244.9 215.4,247.4 215.8,245.3 216.1,246 216.4,245.7 216.7,246.7 217,245.9 217.3,247 217.7,247.8 218,247.4 218.3,247.3 218.6,248.7 218.9,247.4 219.2,248.8 219.5,248.2 219.9,248.6 220.2,248.6 220.5,248.8 220.8,248.7 221.1,248.4 221.4,248.7 221.8,249.5 222.1,249.4 222.4,248.9 222.7,249.3 223,249.5 223.3,249.9 223.7,250.1 224,250.2 224.3,249.8 224.6,250.4 224.9,249.7 225.2,248.8 225.6,250.6 225.9,249.7 226.2,250.2 226.5,250.1 226.8,251.4 227.1,250.4 227.4,251.4 227.8,251.2 228.1,250.9 228.4,250.9 228.7,252.3 229,252.4 229.3,252.7 229.7,253.5 230,252.7 230.3,253 230.6,253 230.9,253.3 231.2,253.2 231.6,253 231.9,254.9 232.2,252.7 232.5,254.1 232.8,254.4 233.1,254.3 233.5,253.7 233.8,254.4 234.1,254.5 234.4,254.4 234.7,255.3 235,255.3 235.3,255.2 235.7,255.9 236,254.8 236.3,255.7 236.6,255 236.9,255.8 237.2,255.8 237.6,256.1 237.9,255.6 238.2,255.8 238.5,255.8 238.8,256.5 239.1,256.9 239.5,257.3 239.8,256.5 240.1,257.1 240.4,256.2 240.7,256 241,257 241.4,257.2 241.7,256.8 242,256.9 242.3,258.6 242.6,258 242.9,257.5 243.2,260.1 243.6,258.9 243.9,258.7 244.2,259.3 244.5,258.6 244.8,260.1 245.1,258.4 245.5,258.7 245.8,259.7 246.1,259.4 246.4,261 246.7,259.2 247,259.8 247.4,260.5 247.7,260.7 248,261 248.3,260.6 248.6,261.7 248.9,260.1 249.3,260.5 249.6,261 249.9,260.5 250.2,260.7 250.5,260.9 250.8,261 251.1,260.9 251.5,261.3 251.8,260.8 252.1,262.1 252.4,260.9 252.7,263.3 253,263.4 253.4,263.2 253.7,262.6 254,262.5 254.3,263.6 254.6,263 254.9,263.3 255.3,262.6 255.6,263.8 255.9,262.8 256.2,263.5 256.5,262.6 256.8,263.4 257.2,264.2 257.5,263.7 257.8,263.8 258.1,264.6 258.4,264.2 258.7,265.1 259,263 259.4,265 259.7,265.2 260,264.1 260.3,264.4 260.6,265.9 260.9,264.9 261.3,265.4 261.6,266.3 261.9,266 262.2,266.6 262.5,265.9 262.8,266.7 263.2,267.2 263.5,266.8 263.8,265.3 264.1,267 264.4,266.8 264.7,266.5 265.1,268 265.4,266.4 265.7,268.8 266,267.4 266.3,268.9 266.6,268.1 266.9,267.4 267.3,268.4 267.6,268.7 267.9,268.9 268.2,269.4 268.5,268.2 268.8,269.1 269.2,269.4 269.5,268.8 269.8,268.6 270.1,268.8 270.4,270 270.7,270.1 271.1,269.2 271.4,269 271.7,270.6 272,269 272.3,270.2 272.6,269.7 273,269.3 273.3,270.6 273.6,270.7 273.9,271.9 274.2,272.6 274.5,271.3 274.8,272.1 275.2,272.2 275.5,271.3 275.8,271.2 276.1,272.7 276.4,271.7 276.7,272 277.1,271.9 277.4,272 277.7,271.8 278,272.8 278.3,273.2 278.6,272.5 279,272.2 279.3,273.2 279.6,272.4 279.9,273.1 280.2,274.3 280.5,274.9 280.9,273.8 281.2,273 281.5,274.1 281.8,272.4 282.1,273.5 282.4,274.9 282.7,274.5 283.1,273.3 283.4,273.1 283.7,274.8 284,274.4 284.3,274.2 284.6,275 285,274.6 285.3,273.9 285.6,275.7 285.9,274.8 286.2,274.6 286.5,274.5 286.9,275.5 287.2,274.9 287.5,275.9 287.8,275.6 288.1,276.7 288.4,276 288.8,276 289.1,275.4 289.4,276 289.7,277.1 290,278.6 290.3,276 290.6,276.3 291,277.3 291.3,277.5 291.6,276.8 291.9,277.4 292.2,276.4 292.5,277.2 292.9,278 293.2,278.6 293.5,277.7 293.8,277.8 294.1,278.5 294.4,279.1 294.8,279 295.1,278.5 295.4,279.3 295.7,279.9 296,279.1 296.3,278.8 296.7,280 297,279.9 297.3,280.1 297.6,279.5 297.9,278.9 298.2,279 298.5,278.8 298.9,279.1 299.2,279.6 299.5,279.9 299.8,281.3 300.1,280.1 300.4,280.9 300.8,280.7 301.1,282.1 301.4,281.3 301.7,281 302,281.7 302.3,281.3 302.7,281.1 303,282.4 303.3,282.1 303.6,282.9 303.9,282.7 304.2,282.6 304.6,282.3 304.9,281.6 305.2,282.8 305.5,282.6 305.8,283.1 306.1,282.9 306.4,282.5 306.8,282.4 307.1,283.5 307.4,284 307.7,283.1 308,283.6 308.3,284.3 308.7,283.1 309,283.6 309.3,283.1 309.6,284.5 309.9,284 310.2,283.5 310.6,282.7 310.9,283.7 311.2,284.6 311.5,284 311.8,284.2 312.1,285.1 312.5,284.2 312.8,285.1 313.1,285.5 313.4,284.9 313.7,284.9 314,285.6 314.3,285.4 314.7,285.4 315,285.6 315.3,285.8 315.6,285.2 315.9,285.5 316.2,286.4 316.6,287 316.9,287.2 317.2,286 317.5,287.3 317.8,287.1 318.1,286.7 318.5,287.1 318.8,287.2 319.1,287.9 319.4,286.3 319.7,287.3 320,287 320.4,287.2 320.7,288.1 321,288.1 321.3,287.1 321.6,287.6 321.9,288 322.2,287.2 322.6,288.6 322.9,288.1 323.2,288.3 323.5,288.5 323.8,289.4 324.1,288.5 324.5,288.4 324.8,289.7 325.1,288.4 325.4,288.5 325.7,288 326,289.6 326.4,289.2 326.7,289.5 327,289.5 327.3,289.6 327.6,289.3 327.9,289.4 328.3,290.2 328.6,290 328.9,290.8 329.2,289.5 329.5,289.8 329.8,289.6 330.1,291.2 330.5,289.9 330.8,291.3 331.1,291.8 331.4,291 331.7,291.6 332,290 332.4,291 332.7,290.4 333,291.6 333.3,291.7 333.6,291.4 333.9,292.6 334.3,292.3 334.6,291.9 334.9,292 335.2,291.5 335.5,292.4 335.8,293.9 336.2,292.4 336.5,293.2 336.8,292.7 337.1,293.6 337.4,293.4 337.7,293.1 338,292.2 338.4,293 338.7,294 339,293.2 339.3,293.8 339.6,293.2 339.9,292.5 340.3,294.1 340.6,294.2 340.9,293.8 341.2,294 341.5,294.6 341.8,294.1 342.2,294.7 342.5,294.6 342.8,293.4 343.1,294.9 343.4,294.7 343.7,294.7 344.1,295.4 344.4,294.9 344.7,295.6 345,296 345.3,295.6 345.6,294.7 345.9,295.3 346.3,296.3 346.6,295.6 346.9,295.3 347.2,295.7 347.5,296.1 347.8,296.1 348.2,296.4 348.5,295.7 348.8,296.2 349.1,296.3 349.4,296.6 349.7,295.4 350.1,296.6 350.4,296.1 350.7,297.9 351,298.1 351.3,298.3 351.6,297.9 352,297.3 352.3,298.3 352.6,297.8 352.9,298.5 353.2,297.7 353.5,298 353.8,298.8 354.2,299.6 354.5,298.6 354.8,300.1 355.1,300.4 355.4,298.1 355.7,299 356.1,298.5 356.4,299.1 356.7,299 357,299.4 357.3,300.1 357.6,300.2 358,299.9 358.3,299.9 358.6,300 358.9,300.1 359.2,300.3 359.5,299.9 359.9,300.2 360.2,299.2 360.5,300.6 360.8,301.3 361.1,300.5 361.4,299.6 361.7,301.3 362.1,300.4 362.4,298.8 362.7,300.6 363,301.2 363.3,301.1 363.6,301.7 364,301.5 364.3,301.2 364.6,300 364.9,300.6 365.2,301.5 365.5,302 365.9,301.2 366.2,301.7 366.5,302.5 366.8,301.2 367.1,301.2 367.4,302.3 367.8,302.8 368.1,302.4 368.4,301.4 368.7,302.9 369,302 369.3,303.1 369.6,302.7 370,302.9 370.3,303.2 370.6,302.6 370.9,303.5 371.2,303.9 371.5,303.5 371.9,304 372.2,302.9 372.5,303.9 372.8,303.6 373.1,303 373.4,303.7 373.8,303.6 374.1,303.7 374.4,304.3 374.7,304.9 375,304.2 375.3,304.6 375.7,303.8 376,304.9 376.3,305.7 376.6,305.7 376.9,305.6 377.2,305 377.5,304.8 377.9,305.3 378.2,304.6 378.5,304.7 378.8,306 379.1,305.1 379.4,306.8 379.8,304.9 380.1,306.1 380.4,305.2 380.7,306 381,305.4 381.3,306 381.7,305.9 382,305.8 382.3,306.3 382.6,307 382.9,305.8 383.2,306.9 383.6,306.6 383.9,306.8 384.2,308.4 384.5,306 384.8,307.1 385.1,306.5 385.4,307.5 385.8,307.6 386.1,310 386.4,307.8 386.7,308.7 387,308.3 387.3,307.2 387.7,307.8 388,308.5 388.3,307.6 388.6,307.8 388.9,308.1 389.2,307.1 389.6,307.7 389.9,308.5 390.2,308.8 390.5,308 390.8,308.5 391.1,308.8 391.5,309 391.8,309.7 392.1,309.6 392.4,309.8 392.7,309 393,309.3 393.3,310.2 393.7,309 394,310.1 394.3,309.6 394.6,309.5 394.9,310.3 395.2,309.6 395.6,309.4 395.9,309.5 396.2,310.1 396.5,311.9 396.8,309.2 397.1,310.8 397.5,311 397.8,311.9 398.1,311.2 398.4,310.1 398.7,312.3 399,310.9 399.4,311.4 399.7,310.5 400,310.7 400.3,311 400.6,311.8 400.9,311.9 401.2,311.3 401.6,312.2 401.9,311.8 402.2,312.3 402.5,312.4 402.8,312.7 403.1,311.9 403.5,312.3 403.8,312.5 404.1,312.4 404.4,311.9 404.7,313.5 405,312.3 405.4,313.2 405.7,313.1 406,313.9 406.3,312 406.6,314.6 406.9,313.3 407.3,312.7 407.6,313.6 407.9,315 408.2,314 408.5,313.1 408.8,313.7 409.1,314.8 409.5,313.2 409.8,314 410.1,313.9 410.4,315.5 410.7,314.2 411,315.2 411.4,314.1 411.7,314.2 412,315.3 412.3,315.2 412.6,314 412.9,315.6 413.3,315.7 413.6,315.1 413.9,315.6 414.2,315.6 414.5,315.1 414.8,315 415.2,314.9 415.5,315.2 415.8,314.7 416.1,315.5 416.4,314.8 416.7,315.7 417,315.6 417.4,315 417.7,316.2 418,316.9 418.3,316.7 418.6,315.2 418.9,317 419.3,316.5 419.6,316.3 419.9,316.1 420.2,316.5 420.5,317.4 420.8,317.1 421.2,316.7 421.5,316.6 421.8,316.9 422.1,317.6 422.4,318.3 422.7,316.5 423.1,317.2 423.4,317 423.7,316.8 424,317.6 424.3,317.8 424.6,316.7 424.9,317 425.3,318.4 425.6,318 425.9,318.3 426.2,317.9 426.5,318.2 426.8,318.8 427.2,318.4 427.5,318.1 427.8,318.9 428.1,319.4 428.4,318.4 428.7,319.6 429.1,319.4 429.4,318.6 429.7,319.2 430,319.3 430.3,319.9 430.6,320.1 431,319 431.3,319 431.6,320.5 431.9,320.1 432.2,320.2 432.5,320.3 432.8,321.1 433.2,319.5 433.5,321 433.8,320 434.1,321 434.4,321.4 434.7,319.7 435.1,320.8 435.4,320.4 435.7,320.4 436,320.8 436.3,320.3 436.6,320.6 437,321.8 437.3,322 437.6,321.2 437.9,320.7 438.2,322.9 438.5,322.2 438.9,321.8 439.2,321.1 439.5,321.3 439.8,321.9 440.1,321.2 440.4,322.8 440.7,322 441.1,322.2 441.4,321.4 441.7,321.6 442,321.7 442.3,322.3 442.6,321.9 443,321.9 443.3,322.3 443.6,322.3 443.9,323.2 444.2,322.2 444.5,321.8 444.9,322.6 445.2,323.6 445.5,322.5 445.8,323 446.1,322.9 446.4,323.4 446.8,323.3 447.1,322.7 447.4,323.1 447.7,323.8 448,323.9 448.3,323.8 448.6,323.8 449,323.1 449.3,323.1 449.6,324.1 449.9,323 450.2,323.9 450.5,323 450.9,324 451.2,324 451.5,323.8 451.8,325 452.1,324.4 452.4,324.7 452.8,324.8 453.1,324.5 453.4,325.8 453.7,324.6 454,325.1 454.3,324.3 454.7,324.9 455,325.1 455.3,325.3 455.6,325.2 455.9,325.6 456.2,326.4 456.5,325.5 456.9,325.5 457.2,325.5 457.5,327.3 457.8,326.9 458.1,326.3 458.4,326.5 458.8,325.7 459.1,326.1 459.4,326.3 459.7,326.3 460,325.7 460.3,325.8 460.7,326.8 461,326.9 461.3,325.6 461.6,327.1 461.9,327.9 462.2,326.7 462.6,327.2 462.9,326.2 463.2,327.7 463.5,326.7 463.8,326.8 464.1,327.5 464.4,329.2 464.8,327.4 465.1,326.9 465.4,327.8 465.7,327.6 466,328.5 466.3,327 466.7,327 467,328 467.3,328.6 467.6,328.6 467.9,329.1 468.2,327.6 468.6,328.1 468.9,328.5 469.2,329.1 469.5,329 469.8,328.5 470.1,328.1 470.5,329.4 470.8,329.6 471.1,330.8 471.4,329.3 471.7,330.5 472,328.9 472.3,329.3 472.7,329.2 473,329.2 473.3,328.9 473.6,329.1 473.9,329.5 474.2,329.4 474.6,330.3 474.9,330 475.2,330.2 475.5,331.1 475.8,330.4 476.1,330.3 476.5,330.3 476.8,330.4 477.1,330.8 477.4,330.1 477.7,331.3 478,331.6 478.4,331.4 478.7,330.4 479,329.7 479.3,330.4 479.6,330.7 479.9,331.2 480.2,330.7 480.6,330.7 480.9,331.8 481.2,330.7 481.5,331.9 481.8,331.8 482.1,330.6 482.5,331.6 482.8,331.1 483.1,330.9 483.4,330.5 483.7,330.8 484,332.1 484.4,331.7 484.7,332.2 485,331.4 485.3,331.8 485.6,331.8 485.9,331.1 486.3,331.2 486.6,332.5 486.9,332.5 487.2,332 487.5,332.6 487.8,333.1 488.1,333.8 488.5,332.3 488.8,333.3 489.1,334.3 489.4,333.2 489.7,334.1 490,331.7 490.4,334.1 490.7,333.2 491,332.1 491.3,333.7 491.6,333.9 491.9,334.1 492.3,334.2 492.6,333.6 492.9,333.2 493.2,333.6 493.5,334 493.8,334.4 494.2,334 494.5,334.5 494.8,335 495.1,334.8 495.4,336.1 495.7,336.2 496,334.3 496.4,334.8 496.7,334.3 497,334.4 497.3,335.3 497.6,334.3 497.9,334.2 498.3,334.6 498.6,335.3 498.9,334.8 499.2,334.9 499.5,335.8 499.8,335.7 500.2,335.8 500.5,336.1 500.8,335 501.1,335.8 501.4,335.4 501.7,336.5 502.1,336.5 502.4,335.5 502.7,337 503,335.4 503.3,336.7 503.6,336.3 503.9,335.8 504.3,335.7 504.6,336.4 504.9,336.7 505.2,336.3 505.5,337 505.8,335.9 506.2,336.7 506.5,336.7 506.8,335.7 507.1,337.1 507.4,336.2 507.7,335.5 508.1,336.8 508.4,337.1 508.7,337.9 509,337.2 509.3,338.5 509.6,338.6 510,338.5 510.3,338.8 510.6,338.2 510.9,337.7 511.2,338.4 511.5,338.5 511.8,338 512.2,337.8 512.5,337.1 512.8,338.6 513.1,338.5 513.4,337.6 513.7,338.5 514.1,338.9 514.4,338.5 514.7,339 515,339.1 515.3,337.8 515.6,338.6 516,339.2 516.3,339.6 516.6,339.9 516.9,337.9 517.2,339 517.5,339.5 517.9,339.9 518.2,340.2 518.5,338.7 518.8,339.1 519.1,338.8 519.4,339.9 519.7,338.7 520.1,340.3 520.4,340.3 520.7,340.1 521,338.7 521.3,339.7 521.6,340.7 522,339.4 522.3,340.2 522.6,340.2 522.9,340.8 523.2,340.5 523.5,340.4 523.9,340.1 524.2,340.4 524.5,340.3 524.8,340.8 525.1,340.3 525.4,341 525.8,339.4 526.1,341.2 526.4,340.5 526.7,341.4 527,340.9 527.3,341.4 527.6,342 528,340.9 528.3,341.4 528.6,341.3 528.9,341.6 529.2,340.6 529.5,341.5 529.9,341.5 530.2,341.3 530.5,341.7 530.8,341 531.1,342.9 531.4,342.3 531.8,343.2 532.1,341.6 532.4,341.3 532.7,342.1 533,340.9 533.3,342.1 533.7,341.6 534,341.9 534.3,342.4 534.6,342.3 534.9,343.4 535.2,342.7 535.5,341.6 535.9,343 536.2,341.6 536.5,342.5 536.8,341.8 537.1,342.2 537.4,343.6"/>
<polyline fill="none" stroke="#222" stroke-width="4.1" stroke-dasharray="17.4 17.4" stroke-dashoffset="0.12" points="68.5,125.5 68.9,129.6 69.3,133.2 69.7,136 70.1,138.2 70.5,140.1 70.9,141.7 71.3,143.1 71.7,144.4 72.1,145.5 72.5,146.6 72.8,147.5 73.2,148.5 73.6,149.3 74,150.1 74.4,150.9 74.8,151.7 75.2,152.5 75.6,153.2 76,154 76.4,154.8 76.8,155.6 77.2,156.3 77.6,157 78,157.6 78.4,158.3 78.8,158.9 79.2,159.5 79.6,160.1 80,160.6 80.3,161.2 80.7,161.7 81.1,162.3 81.5,162.8 81.9,163.3 82.3,163.8 82.7,164.2 83.1,164.7 83.5,165.2 83.9,165.6 84.3,166.1 84.7,166.5 85.1,166.9 85.5,167.4 85.9,167.8 86.3,168.2 86.7,168.6 87.1,169 87.5,169.4 87.9,169.8 88.2,170.1 88.6,170.5 89,170.9 89.4,171.3 89.8,171.6 90.2,172 90.6,172.3 91,172.7 91.4,173.1 91.8,173.4 92.2,173.7 94.6,175.8 96.9,177.7 99.3,179.6 101.7,181.4 104,183.2 106.4,184.9 108.8,186.6 111.2,188.3 113.5,189.9 115.9,191.5 118.3,193.1 120.6,194.7 123,196.3 125.4,197.8 127.7,199.3 130.1,200.8 132.5,202.3 134.9,203.8 137.2,205.3 139.6,206.7 142,208.1 144.3,209.6 146.7,211 149.1,212.4 151.4,213.7 153.8,215.1 156.2,216.5 158.6,217.8 160.9,219.1 163.3,220.5 165.7,221.8 168,223.1 170.4,224.4 172.8,225.6 175.1,226.9 177.5,228.1 179.9,229.4 182.3,230.6 184.6,231.8 187,233 189.4,234.2 191.7,235.4 194.1,236.6 196.5,237.8 198.8,238.9 201.2,240.1 203.6,241.2 206,242.4 208.3,243.5 210.7,244.6 213.1,245.7 215.4,246.8 217.8,247.9 220.2,249 222.5,250.1 224.9,251.1 227.3,252.2 229.7,253.2 232,254.3 234.4,255.3 236.8,256.3 239.1,257.3 241.5,258.3 243.9,259.3 246.2,260.3 248.6,261.3 251,262.3 253.4,263.3 255.7,264.2 258.1,265.2 260.5,266.1 262.8,267.1 265.2,268 267.6,268.9 269.9,269.9 272.3,270.8 274.7,271.7 277.1,272.6 279.4,273.5 281.8,274.4 284.2,275.2 286.5,276.1 288.9,277 291.3,277.9 293.6,278.7 296,279.6 298.4,280.4 300.8,281.3 303.1,282.1 305.5,282.9 307.9,283.7 310.2,284.6 312.6,285.4 315,286.2 317.3,287 319.7,287.8 322.1,288.6 324.5,289.4 326.8,290.1 329.2,290.9 331.6,291.7 333.9,292.5 336.3,293.2 338.7,294 341,294.7 343.4,295.5 345.8,296.2 348.2,297 350.5,297.7 352.9,298.4 355.3,299.1 357.6,299.9 360,300.6 362.4,301.3 364.7,302 367.1,302.7 369.5,303.4 371.9,304.1 374.2,304.8 376.6,305.5 379,306.1 381.3,306.8 383.7,307.5 386.1,308.1 388.4,308.8 390.8,309.5 393.2,310.1 395.6,310.8 397.9,311.4 400.3,312.1 402.7,312.7 405,313.3 407.4,314 409.8,314.6 412.1,315.2 414.5,315.8 416.9,316.4 419.3,317 421.6,317.6 424,318.2 426.4,318.7 428.7,319.3 431.1,319.9 433.5,320.5 435.8,321 438.2,321.6 440.6,322.1 443,322.7 445.3,323.2 447.7,323.8 450.1,324.3 452.4,324.8 454.8,325.4 457.2,325.9 459.5,326.4 461.9,326.9 464.3,327.5 466.7,328 469,328.5 471.4,329 473.8,329.5 476.1,330 478.5,330.5 480.9,331 483.2,331.5 485.6,331.9 488,332.4 490.4,332.9 492.7,333.4 495.1,333.8 497.5,334.3 499.8,334.8 502.2,335.2 504.6,335.7 506.9,336.1 509.3,336.6 511.7,337 514.1,337.5 516.4,337.9 518.8,338.4 521.2,338.8 523.5,339.2 525.9,339.7 528.3,340.1 530.6,340.5 533,340.9 535.4,341.3 537.4,341.7"/>
<polyline fill="none" stroke="none" marker-start="url(#md)" marker-mid="url(#md)" marker-end="url(#md)" points="68.7,93.7 68.8,108.6 69,120.5 69.1,129.5 69.3,135.7 69.4,141.5 69.6,145.4 69.8,148.8 69.9,151.2 70.1,153.5 70.2,155 70.4,156.3 70.6,156.8 70.7,157.5 70.9,158.4 71,159.2 71.2,160.3 71.3,160.2 71.5,160.7 71.7,161.2 71.8,162.7 72,162.9 72.1,163.7 72.3,163.5 72.5,163.6 72.6,164.6 72.8,165.4 72.9,166 73.1,166.5 73.2,167 73.4,167.5 73.6,167.9 73.7,168.3 73.9,168.7 74,169.2 74.2,169.6 74.3,170.1 74.5,170.5 74.7,171 74.8,171.4 75,171.8 75.1,172.2 75.3,172.6 75.5,173.1 75.6,173.5 75.8,173.8 75.9,174.2 76.1,174.6 76.2,175 76.4,175.4 76.6,177 76.7,174.6 76.9,176.5 77,176.5 77.2,176.7 77.3,175.9 77.5,177 77.7,176.4 77.8,178.3 78,178.4 78.1,177.2 78.3,177.2 78.5,179.1 78.6,180.7 78.8,180.9 78.9,180.7 79.1,177.5 79.2,180.9 79.4,181 79.6,181.7 79.7,180.9 79.9,182.1 80,182.1 80.2,186 80.3,184 80.5,183.3 80.7,183.7 80.8,183.9 81,184.6 81.1,184.2 81.3,184.9 81.5,186.4 81.6,186.5 81.8,186.1 81.9,187.4 82.1,186.5 82.2,185.3 82.4,184.7 82.6,186.3 82.7,187.4 82.9,188.2 83,189.5 83.2,188.2 83.4,188.4 83.5,190.4 83.7,191.2 83.8,189.6 84,190.7 84.1,192 84.3,191.1 84.5,191.1 84.6,189.1 84.8,192.9 84.9,192.2 85.1,191.7 85.2,191.1 85.4,190.3 85.6,191.6 85.7,191.9 85.9,193.5 86,191.5 86.2,194.6 86.4,193.6 86.5,195.2 86.7,193.3 86.8,195 87,196.1 87.1,195.2 87.3,193.7 87.5,195 87.6,196 87.8,194.3 87.9,194.5 88.1,196.5 88.2,195.5 88.4,197.3 88.6,195.5 88.7,195 88.9,196.1 89,198.7 89.2,196.7 89.4,197.9 89.5,198.5 89.7,197.6 89.8,199.8 90,198.9 90.1,199.1 90.3,197 90.5,197 90.6,196.2 90.8,199.1 90.9,199.6 91.1,200.9 91.3,202.1 91.4,200.6 91.6,200.9 91.7,201.7 91.9,202.9 92,200.7 92.2,202.5 92.5,202.1 92.8,202.5 93.1,204.2 93.5,203.1 93.8,203.2 94.1,205.1 94.4,204.6 94.7,204.6 95,204.9 95.4,205.7 95.7,205.1 96,206.6 96.3,206.5 96.6,207.9 96.9,208.1 97.3,208.1 97.6,207.5 97.9,208.2 98.2,208 98.5,211.8 98.8,209.3 99.2,210.4 99.5,211.6 99.8,209.3 100.1,210 100.4,210.7 100.7,210.5 101,210.6 101.4,211.7 101.7,213.8 102,213.6 102.3,213.3 102.6,213.7 102.9,212.5 103.3,215 103.6,215.1 103.9,214 104.2,215.4 104.5,215.3 104.8,215.3 105.2,215.2 105.5,215.8 105.8,216 106.1,217.5 106.4,217.8 106.7,218 107.1,217.9 107.4,218 107.7,220.4 108,217.4 108.3,220.4 108.6,220 108.9,220.3 109.3,220.3 109.6,220.8 109.9,220.3 110.2,220.5 110.5,221.8 110.8,220.8 111.2,223.4 111.5,224 111.8,220.4 112.1,222.4 112.4,224.2 112.7,224.3 113.1,224.5 113.4,224.9 113.7,225.4 114,225.7 114.3,226.7 114.6,225.4 115,226.3 115.3,224.5 115.6,226.2 115.9,225.7 116.2,228.3 116.5,229.5 116.8,228.3 117.2,226.9 117.5,228.1 117.8,228.5 118.1,229 118.4,230 118.7,230.2 119.1,227.6 119.4,231 119.7,229.7 120,229.9 120.3,231.9 120.6,231 121,230.6 121.3,231.3 121.6,232.8 121.9,233.8 122.2,234.6 122.5,233.4 122.9,233.3 123.2,235.1 123.5,233.6 123.8,235.2 124.1,234.4 124.4,234.6 124.7,234.5 125.1,235.3 125.4,235.1 125.7,235.3 126,236.1 126.3,236 126.6,236.9 127,237.1 127.3,237.1 127.6,237.4 127.9,237.6 128.2,239.4 128.5,238.2 128.9,237.9 129.2,238.4 129.5,239.4 129.8,238.9 130.1,239.1 130.4,239.3 130.8,239.9 131.1,240.3 131.4,240.8 131.7,239.6 132,240.4 132.3,239.5 132.6,242.4 133,242.8 133.3,243.1 133.6,242.4 133.9,243.4 134.2,242.7 134.5,242.9 134.9,242 135.2,242.8 135.5,243.2 135.8,244.5 136.1,245.2 136.4,243.8 136.8,244.7 137.1,244.8 137.4,244.2 137.7,243.8 138,244.7 138.3,244.5 138.7,245.7 139,246.1 139.3,246.4 139.6,246.7 139.9,247.4 140.2,246.7 140.5,248.3 140.9,246.6 141.2,248 141.5,248.4 141.8,247.8 142.1,247.5 142.4,249.5 142.8,248.9 143.1,250.2 143.4,250.5 143.7,250.1 144,250.2 144.3,251.1 144.7,250.9 145,250.2 145.3,251.3 145.6,252 145.9,252.1 146.2,252.4 146.6,252.4 146.9,252.5 147.2,252 147.5,251.8 147.8,253.7 148.1,252.7 148.4,253.6 148.8,252.7 149.1,254.2 149.4,253.8 149.7,256.7 150,254 150.3,254.2 150.7,255.8 151,256.1 151.3,254 151.6,255.8 151.9,256.5 152.2,255.1 152.6,256.6 152.9,255.9 153.2,255.7 153.5,256.4 153.8,256.5 154.1,256.2 154.5,259 154.8,257.4 155.1,257.5 155.4,258.8 155.7,258.4 156,259.5 156.3,258.5 156.7,259 157,259.1 157.3,259.4 157.6,259.5 157.9,259.9 158.2,261.4 158.6,260 158.9,260.4 159.2,260.7 159.5,261.5 159.8,261.6 160.1,262.2 160.5,260.7 160.8,262 161.1,261.9 161.4,261.9 161.7,262.4 162,261.2 162.4,263 162.7,263.1 163,262.4 163.3,263.5 163.6,264.9 163.9,263.8 164.2,264.8 164.6,264.4 164.9,264.2 165.2,264.2 165.5,264.7 165.8,266.1 166.1,265.9 166.5,265.1 166.8,266.5 167.1,266 167.4,265.8 167.7,266.8 168,266 168.4,265.8 168.7,268 169,266.1 169.3,267.8 169.6,266.7 169.9,267.8 170.3,267.8 170.6,267.9 170.9,266.9 171.2,268.4 171.5,268.6 171.8,268.3 172.1,269 172.5,269.9 172.8,268.9 173.1,269.7 173.4,269 173.7,270.3 174,270.6 174.4,272.1 174.7,271.2 175,271 175.3,271.9 175.6,270.6 175.9,272.2 176.3,271.5 176.6,271.7 176.9,273.1 177.2,272.8 177.5,273.6 177.8,272 178.2,273.2 178.5,272.9 178.8,273.3 179.1,272.4 179.4,274.4 179.7,274 180,273.2 180.4,273.1 180.7,273.5 181,275.1 181.3,274.3 181.6,274.4 181.9,275.1 182.3,275 182.6,275.4 182.9,276 183.2,276 183.5,276.6 183.8,275.4 184.2,276.4 184.5,276.3 184.8,276.8 185.1,276.8 185.4,276.7 185.7,277 186.1,278 186.4,277.2 186.7,277 187,278.4 187.3,278.8 187.6,278.4 187.9,278.8 188.3,278.4 188.6,279 188.9,280 189.2,280 189.5,279.7 189.8,279.6 190.2,279 190.5,280.4 190.8,280.6 191.1,281.2 191.4,281.9 191.7,280.9 192.1,281.4 192.4,280.3 192.7,281.9 193,281.9 193.3,282.4 193.6,282.2 194,282.3 194.3,283.2 194.6,282.1 194.9,283.1 195.2,283.6 195.5,282.6 195.8,282.4 196.2,283.5 196.5,283.5 196.8,283.9 197.1,284.1 197.4,283.4 197.7,284.3 198.1,285 198.4,284.4 198.7,284.7 199,284.4 199.3,285.9 199.6,286.9 200,284.9 200.3,286.4 200.6,286.6 200.9,285.7 201.2,285.8 201.5,285.4 201.9,285.7 202.2,286.4 202.5,286.9 202.8,286.8 203.1,287.5 203.4,287.3 203.7,286.7 204.1,288.4 204.4,288.4 204.7,287.4 205,289.1 205.3,288.4 205.6,288.5 206,289.7 206.3,287.1 206.6,287.7 206.9,289.3 207.2,288.8 207.5,288.6 207.9,290.4 208.2,290.1 208.5,289.3 208.8,290 209.1,291.1 209.4,291.7 209.8,289.4 210.1,290.7 210.4,290.3 210.7,289.5 211,290.6 211.3,289.9 211.6,290.7 212,292.2 212.3,291.8 212.6,292.1 212.9,292.2 213.2,292.3 213.5,292.8 213.9,291.7 214.2,292.3 214.5,293.2 214.8,292.3 215.1,292.6 215.4,293.7 215.8,294.2 216.1,293.1 216.4,293.1 216.7,294.2 217,294.1 217.3,293.7 217.7,294.5 218,294.7 218.3,294.6 218.6,296.6 218.9,295.9 219.2,295.8 219.5,296 219.9,297.3 220.2,296.2 220.5,295.2 220.8,295.9 221.1,296 221.4,295.8 221.8,296.5 222.1,296.7 222.4,296.8 222.7,296.8 223,297.7 223.3,296.4 223.7,297.9 224,297.4 224.3,297.6 224.6,296.1 224.9,298.6 225.2,296.6 225.6,297.2 225.9,298.2 226.2,297.6 226.5,297.9 226.8,297 227.1,298.4 227.4,299 227.8,299.5 228.1,299.1 228.4,299.6 228.7,299.8 229,299.3 229.3,299.5 229.7,301.3 230,299.7 230.3,301.2 230.6,300.6 230.9,301.6 231.2,300.5 231.6,301.4 231.9,301.4 232.2,301.2 232.5,301.7 232.8,301.2 233.1,301.6 233.5,301.6 233.8,302.4 234.1,302 234.4,301.4 234.7,302.3 235,302.7 235.3,302.5 235.7,304.1 236,303.7 236.3,304.1 236.6,303.1 236.9,303.3 237.2,304 237.6,302.6 237.9,303.7 238.2,303.6 238.5,303.4 238.8,303.9 239.1,303.3 239.5,304.3 239.8,303.6 240.1,303.7 240.4,305.6 240.7,304.5 241,303.9 241.4,305.9 241.7,305.1 242,303.6 242.3,305.9 242.6,306.7 242.9,306.5 243.2,307.4 243.6,306.3 243.9,306.8 244.2,305.8 244.5,306.6 244.8,307.4 245.1,306.9 245.5,306.9 245.8,305.9 246.1,307.2 246.4,306.9 246.7,308.4 247,307.6 247.4,308.3 247.7,307.4 248,309.3 248.3,307.5 248.6,308.5 248.9,310.3 249.3,309.2 249.6,308.7 249.9,309.7 250.2,309.9 250.5,309.9 250.8,308.2 251.1,309.6 251.5,308.4 251.8,311.2 252.1,310.3 252.4,310.2 252.7,311.1 253,311.1 253.4,310.2 253.7,312 254,311 254.3,310.1 254.6,312 254.9,312.2 255.3,312.1 255.6,311.8 255.9,311.1 256.2,312.4 256.5,313.1 256.8,312.5 257.2,313.1 257.5,311.7 257.8,312.9 258.1,312.9 258.4,311.6 258.7,311.6 259,312.3 259.4,312.9 259.7,313.3 260,313.1 260.3,313.4 260.6,313.5 260.9,313.7 261.3,314.1 261.6,314.1 261.9,313.9 262.2,314.2 262.5,313.9 262.8,314.9 263.2,314.3 263.5,315.8 263.8,314.9 264.1,315.3 264.4,314.7 264.7,315.1 265.1,315.6 265.4,315.6 265.7,315.3 266,315.1 266.3,315.9 266.6,316 266.9,316.3 267.3,316.8 267.6,316 267.9,315.2 268.2,316.5 268.5,315.6 268.8,316 269.2,317.5 269.5,317.2 269.8,316.6 270.1,316.8 270.4,317.3 270.7,316.4 271.1,317.8 271.4,317.3 271.7,318.6 272,316.9 272.3,318.3 272.6,317.5 273,318.8 273.3,317.8 273.6,319.1 273.9,318.6 274.2,318.5 274.5,319 274.8,319.5 275.2,319.7 275.5,320.6 275.8,320.3 276.1,318.4 276.4,319.8 276.7,318.9 277.1,320 277.4,320.7 277.7,319.6 278,319.8 278.3,320.6 278.6,320.4 279,321.6 279.3,320.9 279.6,321.1 279.9,321.9 280.2,320.7 280.5,321.1 280.9,320.6 281.2,321.5 281.5,322.1 281.8,322.4 282.1,321.6 282.4,321.3 282.7,321.4 283.1,321.1 283.4,322.2 283.7,323.1 284,321.2 284.3,321.5 284.6,323.9 285,322.3 285.3,323.6 285.6,322.8 285.9,324.1 286.2,324.2 286.5,323.9 286.9,324.4 287.2,324.1 287.5,324.5 287.8,325.3 288.1,324.9 288.4,324 288.8,324 289.1,324.4 289.4,324.6 289.7,325 290,324.7 290.3,325.6 290.6,325.3 291,325.6 291.3,325.4 291.6,325.8 291.9,324.7 292.2,326.4 292.5,325.8 292.9,326 293.2,326.3 293.5,326.8 293.8,326.8 294.1,326.6 294.4,326.4 294.8,325.6 295.1,326.8 295.4,326.5 295.7,326.7 296,328.5 296.3,326 296.7,327.4 297,328.3 297.3,328.2 297.6,328.6 297.9,327.2 298.2,327.4 298.5,328.4 298.9,328 299.2,329.2 299.5,328.4 299.8,328.6 300.1,328.8 300.4,328.4 300.8,328.8 301.1,328.4 301.4,328.8 301.7,328.6 302,329.1 302.3,328.1 302.7,328.1 303,329.5 303.3,329.5 303.6,329 303.9,329.5 304.2,329.1 304.6,331 304.9,328.8 305.2,330.9 305.5,329.4 305.8,330.3 306.1,330 306.4,330.1 306.8,330.9 307.1,330.9 307.4,330.4 307.7,330.1 308,332.1 308.3,331.8 308.7,331.2 309,331 309.3,331.5 309.6,331.5 309.9,332.2 310.2,331 310.6,331.8 310.9,331.4 311.2,332.7 311.5,333.2 311.8,332.2 312.1,332.7 312.5,333.5 312.8,332.6 313.1,332.4 313.4,333.7 313.7,333.5 314,333 314.3,334 314.7,333.2 315,331.9 315.3,333.1 315.6,332.9 315.9,334.2 316.2,333.2 316.6,333.3 316.9,333.9 317.2,334.1 317.5,333.3 317.8,334.4 318.1,334.3 318.5,335.4 318.8,336.1 319.1,334.1 319.4,334.2 319.7,334.3 320,334.4 320.4,334.5 320.7,335.1 321,335.9 321.3,334.8 321.6,334.8 321.9,334.8 322.2,336.6 322.6,336.9 322.9,335.1 323.2,335.1 323.5,336.2 323.8,336.7 324.1,336.6 324.5,336.2 324.8,336.5 325.1,336.3 325.4,336 325.7,337.7 326,336.8 326.4,336.4 326.7,337 327,336.4 327.3,337.4 327.6,338.1 327.9,336.7 328.3,338.2 328.6,338.8 328.9,337.9 329.2,337.1 329.5,337.4 329.8,337.7 330.1,337.2 330.5,337.3 330.8,337.9 331.1,338 331.4,338.6 331.7,337.6 332,339.5 332.4,339.1 332.7,339.1 333,338.3 333.3,339.8 333.6,338.7 333.9,340.1 334.3,339.8 334.6,338.8 334.9,339.2 335.2,340.8 335.5,340.5 335.8,339.9 336.2,340.3 336.5,340.4 336.8,339.9 337.1,340.4 337.4,340.3 337.7,340.6 338,341.2 338.4,340.5 338.7,341.6 339,341.3 339.3,341.8 339.6,342 339.9,342.3 340.3,342.1 340.6,342.1 340.9,341.7 341.2,342.2 341.5,341.3 341.8,341.8 342.2,342.5 342.5,342.1 342.8,342.4 343.1,341.5 343.4,342.9 343.7,341.8 344.1,342.4 344.4,342.2 344.7,342.9 345,342.2 345.3,341.9 345.6,341.4 345.9,342.5 346.3,342.1 346.6,343.3 346.9,344 347.2,341.8 347.5,342.4 347.8,343.4 348.2,344 348.5,343.5 348.8,343.6 349.1,343.8 349.4,344 349.7,344.7 350.1,344.3 350.4,343.4 350.7,344 351,344.5 351.3,344 351.6,344.4 352,344.3 352.3,344.3 352.6,345.2 352.9,344.8 353.2,344.4 353.5,344.6 353.8,345.2 354.2,346.5 354.5,345.4 354.8,346.2 355.1,345.7 355.4,344.1 355.7,345.6 356.1,344.9 356.4,344.6 356.7,344.8 357,346.7 357.3,344.8 357.6,345.6 358,346.9 358.3,346.8 358.6,345.4 358.9,346.5 359.2,346.3 359.5,346.5 359.9,347.2 360.2,346.4 360.5,346.6 360.8,347.7 361.1,345.8 361.4,346.9 361.7,347.5 362.1,346.7 362.4,347.2 362.7,346.9 363,347.7 363.3,347.3 363.6,348.1 364,348.3 364.3,347.8 364.6,347.7 364.9,348.1 365.2,348.1 365.5,347.4 365.9,349 366.2,348.6 366.5,349.1 366.8,347.9 367.1,349.4 367.4,350.1 367.8,349.1 368.1,347.9 368.4,348.9 368.7,349 369,349.4 369.3,349.3 369.6,349.8 370,349.3 370.3,349.8 370.6,349.3 370.9,349.9 371.2,350.6 371.5,349.8 371.9,350.6 372.2,349.7 372.5,349.9 372.8,349.9 373.1,350.8 373.4,349.6 373.8,350.9 374.1,349.5 374.4,350.5 374.7,351.3 375,351.3 375.3,350.5 375.7,350.6 376,352 376.3,350.8 376.6,352 376.9,351.3 377.2,351.7 377.5,353.1 377.9,352.6 378.2,352.1 378.5,350.8 378.8,351.8 379.1,351.7 379.4,351.7 379.8,352.6 380.1,350.9 380.4,352.4 380.7,352.4 381,352 381.3,353.7 381.7,351.9 382,352.7 382.3,352.8 382.6,351.4 382.9,351.9 383.2,352.1 383.6,353.3 383.9,353.5 384.2,353.4 384.5,353.4 384.8,352.1 385.1,353.6 385.4,353.3 385.8,354.3 386.1,354.5 386.4,355.1 386.7,354.2 387,354.3 387.3,353.2 387.7,353.9 388,353.1 388.3,354.5 388.6,353.3 388.9,354.1 389.2,353.9 389.6,354.4 389.9,355.1 390.2,354.6 390.5,355.3 390.8,354.5 391.1,356 391.5,354.8 391.8,355.8 392.1,356.3 392.4,353.6 392.7,354.4 393,354.9 393.3,355.7 393.7,354.8 394,355.4 394.3,354.8 394.6,355.8 394.9,354.9 395.2,356.3 395.6,354.1 395.9,354.8 396.2,357 396.5,356.1 396.8,355.5 397.1,357.6 397.5,357 397.8,357.3 398.1,356.5 398.4,357.1 398.7,357 399,355.7 399.4,357.1 399.7,356.5 400,357.5 400.3,357.6 400.6,356.5 400.9,356.5 401.2,357 401.6,357.3 401.9,356.7 402.2,356.9 402.5,357.5 402.8,357.5 403.1,358 403.5,357.6 403.8,357 404.1,356.5 404.4,358.2 404.7,357.6 405,357.7 405.4,357.8 405.7,357.1 406,357.9 406.3,356.7 406.6,358.1 406.9,358 407.3,359.7 407.6,359 407.9,358.6 408.2,359 408.5,359.4 408.8,358.6 409.1,359 409.5,359 409.8,360.8 410.1,359.3 410.4,358 410.7,359.7 411,360.8 411.4,358.7 411.7,361.6 412,359.6 412.3,360.4 412.6,359.6 412.9,359.8 413.3,359.3 413.6,359.3 413.9,358.7 414.2,360.8 414.5,359.5 414.8,360.6 415.2,360.8 415.5,360.3 415.8,360.9 416.1,361 416.4,360.9 416.7,361.3 417,361.4 417.4,360.7 417.7,360.5 418,360.8 418.3,361.4 418.6,362.1 418.9,362.2 419.3,361.5 419.6,361.9 419.9,361.4 420.2,362 420.5,361.5 420.8,361.7 421.2,361.4 421.5,361.7 421.8,363 422.1,361.2 422.4,362.1 422.7,361.9 423.1,363 423.4,363.7 423.7,362.4 424,361 424.3,363.1 424.6,363.1 424.9,361.6 425.3,362.6 425.6,362.7 425.9,361.4 426.2,363.3 426.5,363.4 426.8,363.4 427.2,362.7 427.5,363.1 427.8,363.3 428.1,364.1 428.4,363.1 428.7,364.6 429.1,363.8 429.4,362.2 429.7,364.6 430,363.7 430.3,363.4 430.6,363.9 431,362.7 431.3,364.1 431.6,362.6 431.9,363.6 432.2,365.1 432.5,365 432.8,364 433.2,363.6 433.5,364.8 433.8,364.2 434.1,364.5 434.4,364.8 434.7,363.8 435.1,365.1 435.4,363.4 435.7,365.7 436,363.9 436.3,364.6 436.6,364.6 437,365.6 437.3,365.7 437.6,365.5 437.9,365.7 438.2,365.7 438.5,365.4 438.9,364.3 439.2,364 439.5,364 439.8,365.4 440.1,365.3 440.4,365.4 440.7,365.8 441.1,365.6 441.4,365.4 441.7,365.3 442,365.3 442.3,367.5 442.6,367.3 443,365.9 443.3,366.4 443.6,366.7 443.9,367.3 444.2,365.9 444.5,366.4 444.9,367.1 445.2,365.5 445.5,366.3 445.8,366.9 446.1,366.6 446.4,368.4 446.8,367.6 447.1,367.2 447.4,366.5 447.7,367.8 448,367.7 448.3,367.2 448.6,367.4 449,367 449.3,367.9 449.6,368.6 449.9,368.7 450.2,368.4 450.5,368.5 450.9,367.7 451.2,367.9 451.5,369 451.8,368.6 452.1,367.8 452.4,368.6 452.8,368.6 453.1,368.5 453.4,368.1 453.7,367.7 454,368.4 454.3,369.4 454.7,368.5 455,368.1 455.3,368.9 455.6,368.1 455.9,369.1 456.2,368.9 456.5,369.8 456.9,369.4 457.2,370.1 457.5,371 457.8,369.5 458.1,369.1 458.4,370 458.8,369.6 459.1,369.8 459.4,369.3 459.7,370 460,369.7 460.3,368.3 460.7,369.6 461,370.1 461.3,370.8 461.6,369.8 461.9,369.8 462.2,371.2 462.6,370.2 462.9,370.6 463.2,370.9 463.5,371 463.8,370.5 464.1,369.7 464.4,371 464.8,370.1 465.1,370 465.4,371.7 465.7,371.2 466,370.1 466.3,370.6 466.7,370.8 467,370.6 467.3,369.8 467.6,371.5 467.9,371.5 468.2,371.1 468.6,370.7 468.9,371.2 469.2,371.6 469.5,370.6 469.8,371.2 470.1,371.2 470.5,372.1 470.8,371.9 471.1,371 471.4,371.5 471.7,373.1 472,371.6 472.3,372.5 472.7,372.1 473,373.2 473.3,372.4 473.6,372.2 473.9,371.7 474.2,372.3 474.6,373 474.9,373 475.2,371.7 475.5,373.5 475.8,372.3 476.1,371.9 476.5,372.7 476.8,372.3 477.1,372.5 477.4,372.5 477.7,373 478,372.8 478.4,372.1 478.7,373.5 479,372.9 479.3,374 479.6,373.6 479.9,373.7 480.2,373.5 480.6,374.4 480.9,373.4 481.2,373 481.5,374 481.8,372.1 482.1,373.5 482.5,373.9 482.8,373.6 483.1,374.6 483.4,374.2 483.7,373.8 484,373.4 484.4,374.4 484.7,373.4 485,373.8 485.3,374.8 485.6,374.9 485.9,376 486.3,374.8 486.6,373.8 486.9,375.5 487.2,376 487.5,375.3 487.8,376.5 488.1,376.8 488.5,375.3 488.8,375.4 489.1,374.9 489.4,375.9 489.7,376 490,375.9 490.4,374.7 490.7,375 491,374.4 491.3,374.3 491.6,374.4 491.9,374.3 492.3,375.3 492.6,375.8 492.9,375.9 493.2,375.6 493.5,375.2 493.8,375.6 494.2,376 494.5,375.6 494.8,375.9 495.1,375.8 495.4,375.8 495.7,376.2 496,375.6 496.4,376.9 496.7,375.3 497,376.5 497.3,375.3 497.6,377.1 497.9,376.8 498.3,375.9 498.6,376.2 498.9,376 499.2,377 499.5,377.5 499.8,378.9 500.2,376.6 500.5,378.2 500.8,377 501.1,377.5 501.4,377.9 501.7,377.6 502.1,377.5 502.4,377.1 502.7,377.1 503,377.3 503.3,378 503.6,376.5 503.9,377.3 504.3,377.1 504.6,377.5 504.9,377.7 505.2,378.9 505.5,379.6 505.8,379.1 506.2,377.5 506.5,378.4 506.8,377.7 507.1,378.7 507.4,379.2 507.7,378.7 508.1,378.9 508.4,378.4 508.7,377.3 509,377.2 509.3,378.5 509.6,378.8 510,379.1 510.3,378.1 510.6,378.4 510.9,378.5 511.2,379.1 511.5,378.4 511.8,377.9 512.2,379.4 512.5,379.1 512.8,379.2 513.1,378.4 513.4,379.4 513.7,378.4 514.1,378.3 514.4,379.6 514.7,379.5 515,380.3 515.3,380.9 515.6,380.1 516,381.1 516.3,379.6 516.6,380.4 516.9,379 517.2,379.9 517.5,379.6 517.9,379.8 518.2,380.3 518.5,378.8 518.8,380.1 519.1,379.5 519.4,380.1 519.7,380.4 520.1,380 520.4,380.1 520.7,379.6 521,380.7 521.3,379.9 521.6,380.5 522,379.4 522.3,381.2 522.6,379.8 522.9,381.2 523.2,380.3 523.5,380.8 523.9,380.4 524.2,380.9 524.5,380.4 524.8,381.3 525.1,381.2 525.4,381.3 525.8,382.1 526.1,380.8 526.4,382.1 526.7,381.3 527,380.4 527.3,381.7 527.6,381.3 528,382.5 528.3,381.2 528.6,381.5 528.9,381.5 529.2,380.2 529.5,381.7 529.9,380.9 530.2,382.4 530.5,382.6 530.8,381.6 531.1,380.8 531.4,382 531.8,382.2 532.1,382.7 532.4,382.3 532.7,381.8 533,382.5 533.3,382 533.7,383.7 534,382.2 534.3,382.3 534.6,382.8 534.9,382.1 535.2,382.6 535.5,382.8 535.9,382.5 536.2,382.5 536.5,383.4 536.8,382.9 537.1,381.9 537.4,382.5"/>
<polyline fill="none" stroke="#222" stroke-width="4.1" stroke-dasharray="17.4 17.4" stroke-dashoffset="-1.97" points="68.5,141 68.9,142.5 69.3,144 69.7,145.5 70.1,147 70.5,148.4 70.9,149.8 71.3,151.2 71.7,152.5 72.1,153.8 72.5,155.2 72.8,156.6 73.2,158.1 73.6,159.7 74,161.4 74.4,163.3 74.8,165.1 75.2,166.9 75.6,168.7 76,170.5 76.4,172.3 76.8,173.9 77.2,175.3 77.6,176.5 78,177.6 78.4,178.7 78.8,179.8 79.2,180.7 79.6,181.7 80,182.5 80.3,183.4 80.7,184.2 81.1,185 81.5,185.8 81.9,186.6 82.3,187.2 82.7,187.9 83.1,188.6 83.5,189.2 83.9,189.9 84.3,190.5 84.7,191.1 85.1,191.8 85.5,192.4 85.9,193 86.3,193.6 86.7,194.1 87.1,194.7 87.5,195.3 87.9,195.9 88.2,196.4 88.6,197 89,197.5 89.4,198.1 89.8,198.6 90.2,199.1 90.6,199.6 91,200.2 91.4,200.7 91.8,201.2 92.2,201.7 94.6,204.7 96.9,207.5 99.3,210.2 101.7,212.9 104,215.4 106.4,217.8 108.8,220.2 111.2,222.6 113.5,224.8 115.9,227.1 118.3,229.2 120.6,231.3 123,233.4 125.4,235.4 127.7,237.4 130.1,239.4 132.5,241.3 134.9,243.2 137.2,245 139.6,246.9 142,248.7 144.3,250.4 146.7,252.1 149.1,253.9 151.4,255.5 153.8,257.2 156.2,258.8 158.6,260.4 160.9,262 163.3,263.6 165.7,265.1 168,266.6 170.4,268.1 172.8,269.6 175.1,271.1 177.5,272.5 179.9,273.9 182.3,275.3 184.6,276.7 187,278.1 189.4,279.4 191.7,280.7 194.1,282.1 196.5,283.4 198.8,284.6 201.2,285.9 203.6,287.2 206,288.4 208.3,289.6 210.7,290.8 213.1,292 215.4,293.2 217.8,294.4 220.2,295.5 222.5,296.7 224.9,297.8 227.3,298.9 229.7,300 232,301.1 234.4,302.2 236.8,303.3 239.1,304.4 241.5,305.4 243.9,306.4 246.2,307.5 248.6,308.5 251,309.5 253.4,310.5 255.7,311.5 258.1,312.4 260.5,313.4 262.8,314.4 265.2,315.3 267.6,316.2 269.9,317.2 272.3,318.1 274.7,319 277.1,319.9 279.4,320.8 281.8,321.7 284.2,322.5 286.5,323.4 288.9,324.3 291.3,325.1 293.6,326 296,326.8 298.4,327.6 300.8,328.4 303.1,329.2 305.5,330.1 307.9,330.8 310.2,331.6 312.6,332.4 315,333.2 317.3,334 319.7,334.7 322.1,335.5 324.5,336.2 326.8,337 329.2,337.7 331.6,338.4 333.9,339.1 336.3,339.8 338.7,340.6 341,341.3 343.4,342 345.8,342.6 348.2,343.3 350.5,344 352.9,344.7 355.3,345.3 357.6,346 360,346.6 362.4,347.3 364.7,347.9 367.1,348.6 369.5,349.2 371.9,349.8 374.2,350.5 376.6,351.1 379,351.7 381.3,352.3 383.7,352.9 386.1,353.5 388.4,354.1 390.8,354.7 393.2,355.2 395.6,355.8 397.9,356.4 400.3,356.9 402.7,357.5 405,358.1 407.4,358.6 409.8,359.1 412.1,359.7 414.5,360.2 416.9,360.7 419.3,361.2 421.6,361.8 424,362.3 426.4,362.8 428.7,363.3 431.1,363.8 433.5,364.2 435.8,364.7 438.2,365.2 440.6,365.7 443,366.1 445.3,366.6 447.7,367.1 450.1,367.5 452.4,368 454.8,368.4 457.2,368.9 459.5,369.3 461.9,369.7 464.3,370.2 466.7,370.6 469,371 471.4,371.4 473.8,371.9 476.1,372.3 478.5,372.7 480.9,373.1 483.2,373.5 485.6,373.9 488,374.3 490.4,374.7 492.7,375 495.1,375.4 497.5,375.8 499.8,376.2 502.2,376.6 504.6,376.9 506.9,377.3 509.3,377.6 511.7,378 514.1,378.4 516.4,378.7 518.8,379 521.2,379.4 523.5,379.7 525.9,380.1 528.3,380.4 530.6,380.7 533,381.1 535.4,381.4 537.4,381.7"/>
</g>
<text class="tk" x="68.5" y="422.7" text-anchor="middle">0</text>
<text class="tk" x="147.5" y="422.7" text-anchor="middle">10</text>
<text class="tk" x="226.5" y="422.7" text-anchor="middle">20</text>
<text class="tk" x="305.5" y="422.7" text-anchor="middle">30</text>
<text class="tk" x="384.5" y="422.7" text-anchor="middle">40</text>
<text class="tk" x="463.5" y="422.7" text-anchor="middle">50</text>
<text class="tk" x="56.5" y="404.6" text-anchor="end">300</text>
<text class="tk" x="56.5" y="331" text-anchor="end">350</text>
<text class="tk" x="56.5" y="257.4" text-anchor="end">400</text>
<text class="tk" x="56.5" y="183.8" text-anchor="end">450</text>
<text class="tk" x="56.5" y="110.2" text-anchor="end">500</text>
<text class="lb" x="301.5" y="447.9" text-anchor="middle">Time [s]</text>
<text class="lb" transform="translate(18.8,213.4) rotate(-90)" text-anchor="middle">Stress [MPa]</text>
<text class="tt" transform="translate(301.3,22.6)" text-anchor="middle">(a)</text>
<g id="legend-a">
<path d="M411.2 45.5L417.8 56.5H404.6Z" fill="#0072BD"/>
<circle cx="411.2" cy="94.2" r="4.3" fill="none" stroke="#FF5A0A" stroke-width="5.4"/>
<path d="M411.2 127.3L417.4 135.3L411.2 143.3L405 135.3Z" fill="#FF14B4"/>
<path d="M390.1 73.4H407.5M425.3 73.4H432.7" stroke="#222" stroke-width="4.1" fill="none"/>
<path d="M390.1 114.4H407.5M425.3 114.4H432.7" stroke="#222" stroke-width="4.1" fill="none"/>
<path d="M390.1 156H407.5M425.3 156H432.7" stroke="#222" stroke-width="4.1" fill="none"/>
<text class="lg" x="437" y="59.7" textLength="65.8" lengthAdjust="spacingAndGlyphs">100 nm/s</text>
<text class="lg" x="437" y="80" textLength="83.4" lengthAdjust="spacingAndGlyphs">fitted curve</text>
<text class="lg" x="437" y="100.4" textLength="65.8" lengthAdjust="spacingAndGlyphs">400 nm/s</text>
<text class="lg" x="437" y="121.2" textLength="83.4" lengthAdjust="spacingAndGlyphs">fitted curve</text>
<text class="lg" x="437" y="141.7" textLength="65.8" lengthAdjust="spacingAndGlyphs">800 nm/s</text>
<text class="lg" x="437" y="162.6" textLength="83.4" lengthAdjust="spacingAndGlyphs">fitted curve</text>
</g>
<g stroke="#262626" stroke-width="2" fill="none">
<rect x="64.5" y="512.2" width="473.0" height="368.29999999999995"/>
<path d="M159.1 880.5v-5.5 M159.1 512.2v5.5 M253.7 880.5v-5.5 M253.7 512.2v5.5 M348.3 880.5v-5.5 M348.3 512.2v5.5 M442.9 880.5v-5.5 M442.9 512.2v5.5 M64.5 851.5h5.5 M537.5 851.5h-5.5 M64.5 793.5h5.5 M537.5 793.5h-5.5 M64.5 735.4h5.5 M537.5 735.4h-5.5 M64.5 677.4h5.5 M537.5 677.4h-5.5 M64.5 619.3h5.5 M537.5 619.3h-5.5 M64.5 561.3h5.5 M537.5 561.3h-5.5"/>
</g>
<g id="chart-b">
<path fill="#0072BD" d="M73.5 561.9l6.55 11h-13.1z M82.9 582.1l6.55 11h-13.1z M92.4 596.9l6.55 11h-13.1z M101.9 613.5l6.55 11h-13.1z M111.3 624.1l6.55 11h-13.1z M120.8 640.5l6.55 11h-13.1z M130.3 650.5l6.55 11h-13.1z M139.7 656.9l6.55 11h-13.1z M149.2 663.5l6.55 11h-13.1z M158.7 667.5l6.55 11h-13.1z M168.1 666l6.55 11h-13.1z M177.6 672.9l6.55 11h-13.1z M187.1 675.1l6.55 11h-13.1z M196.6 678.7l6.55 11h-13.1z M206 682.7l6.55 11h-13.1z M215.5 688.5l6.55 11h-13.1z M225 688.9l6.55 11h-13.1z M234.4 688.9l6.55 11h-13.1z M243.9 686.9l6.55 11h-13.1z M253.4 690.9l6.55 11h-13.1z M262.8 696.9l6.55 11h-13.1z M272.3 694.9l6.55 11h-13.1z M281.8 694.9l6.55 11h-13.1z M291.2 697.1l6.55 11h-13.1z M300.7 689.9l6.55 11h-13.1z M310.2 687.1l6.55 11h-13.1z M319.6 689.1l6.55 11h-13.1z M329.1 699.9l6.55 11h-13.1z M338.6 707.5l6.55 11h-13.1z M348 702.9l6.55 11h-13.1z M357.5 710.7l6.55 11h-13.1z M367 708.9l6.55 11h-13.1z M376.4 706.5l6.55 11h-13.1z M385.9 710.9l6.55 11h-13.1z M395.4 703.9l6.55 11h-13.1z M404.8 701.9l6.55 11h-13.1z M414.3 709.9l6.55 11h-13.1z M423.8 708.9l6.55 11h-13.1z M433.3 709.9l6.55 11h-13.1z M442.7 714.1l6.55 11h-13.1z M452.2 708.9l6.55 11h-13.1z M461.7 711.5l6.55 11h-13.1z M471.1 712.5l6.55 11h-13.1z M480.6 705.1l6.55 11h-13.1z M490.1 711.9l6.55 11h-13.1z M499.5 717.5l6.55 11h-13.1z M509 719.9l6.55 11h-13.1z M518.5 732.1l6.55 11h-13.1z M527.9 731.5l6.55 11h-13.1z M537.4 725.5l6.55 11h-13.1z"/>
<g fill="#FF5A0A">
<circle cx="73.5" cy="575" r="5.05"/>
<circle cx="82.9" cy="618.6" r="5.05"/>
<circle cx="92.4" cy="647.4" r="5.05"/>
<circle cx="101.9" cy="673.4" r="5.05"/>
<circle cx="111.3" cy="694" r="5.05"/>
<circle cx="120.8" cy="709" r="5.05"/>
<circle cx="130.3" cy="721" r="5.05"/>
<circle cx="139.7" cy="729.4" r="5.05"/>
<circle cx="149.2" cy="738" r="5.05"/>
<circle cx="158.7" cy="744.4" r="5.05"/>
<circle cx="168.1" cy="748" r="5.05"/>
<circle cx="177.6" cy="753.4" r="5.05"/>
<circle cx="187.1" cy="758" r="5.05"/>
<circle cx="196.6" cy="761" r="5.05"/>
<circle cx="206" cy="762.4" r="5.05"/>
<circle cx="215.5" cy="762" r="5.05"/>
<circle cx="225" cy="766.4" r="5.05"/>
<circle cx="234.4" cy="769.6" r="5.05"/>
<circle cx="243.9" cy="769.6" r="5.05"/>
<circle cx="253.4" cy="771" r="5.05"/>
<circle cx="262.8" cy="774" r="5.05"/>
<circle cx="272.3" cy="777.4" r="5.05"/>
<circle cx="281.8" cy="779.4" r="5.05"/>
<circle cx="291.2" cy="781" r="5.05"/>
<circle cx="300.7" cy="783.6" r="5.05"/>
<circle cx="310.2" cy="787.6" r="5.05"/>
<circle cx="319.6" cy="791" r="5.05"/>
<circle cx="329.1" cy="791.6" r="5.05"/>
<circle cx="338.6" cy="792.4" r="5.05"/>
<circle cx="348" cy="795.6" r="5.05"/>
<circle cx="357.5" cy="797.6" r="5.05"/>
<circle cx="367" cy="795.8" r="5.05"/>
<circle cx="376.4" cy="795.4" r="5.05"/>
<circle cx="385.9" cy="796.4" r="5.05"/>
<circle cx="395.4" cy="797.6" r="5.05"/>
<circle cx="404.8" cy="802.4" r="5.05"/>
<circle cx="414.3" cy="802.4" r="5.05"/>
<circle cx="423.8" cy="803.6" r="5.05"/>
<circle cx="433.3" cy="807" r="5.05"/>
<circle cx="442.7" cy="809.5" r="5.05"/>
<circle cx="452.2" cy="809.3" r="5.05"/>
<circle cx="461.7" cy="808.3" r="5.05"/>
<circle cx="471.1" cy="808.2" r="5.05"/>
<circle cx="480.6" cy="808.4" r="5.05"/>
<circle cx="490.1" cy="811.6" r="5.05"/>
<circle cx="499.5" cy="814" r="5.05"/>
<circle cx="509" cy="816.4" r="5.05"/>
<circle cx="518.5" cy="817" r="5.05"/>
<circle cx="527.9" cy="817" r="5.05"/>
<circle cx="537.4" cy="817" r="5.05"/>
</g>
<path fill="#FF14B4" d="M73.5 576.1l5.35 6.3l-5.35 6.3l-5.35 -6.3z M82.9 634.7l5.35 6.3l-5.35 6.3l-5.35 -6.3z M92.4 681.7l5.35 6.3l-5.35 6.3l-5.35 -6.3z M101.9 717.1l5.35 6.3l-5.35 6.3l-5.35 -6.3z M111.3 741.7l5.35 6.3l-5.35 6.3l-5.35 -6.3z M120.8 764.3l5.35 6.3l-5.35 6.3l-5.35 -6.3z M130.3 779.7l5.35 6.3l-5.35 6.3l-5.35 -6.3z M139.7 793.1l5.35 6.3l-5.35 6.3l-5.35 -6.3z M149.2 802.7l5.35 6.3l-5.35 6.3l-5.35 -6.3z M158.7 811.7l5.35 6.3l-5.35 6.3l-5.35 -6.3z M168.1 817.7l5.35 6.3l-5.35 6.3l-5.35 -6.3z M177.6 822.7l5.35 6.3l-5.35 6.3l-5.35 -6.3z M187.1 824.7l5.35 6.3l-5.35 6.3l-5.35 -6.3z M196.6 827.7l5.35 6.3l-5.35 6.3l-5.35 -6.3z M206 831.1l5.35 6.3l-5.35 6.3l-5.35 -6.3z M215.5 834.3l5.35 6.3l-5.35 6.3l-5.35 -6.3z M225 838.7l5.35 6.3l-5.35 6.3l-5.35 -6.3z M234.4 838.1l5.35 6.3l-5.35 6.3l-5.35 -6.3z M243.9 840.1l5.35 6.3l-5.35 6.3l-5.35 -6.3z M253.4 842.1l5.35 6.3l-5.35 6.3l-5.35 -6.3z M262.8 848.1l5.35 6.3l-5.35 6.3l-5.35 -6.3z M272.3 848.7l5.35 6.3l-5.35 6.3l-5.35 -6.3z M281.8 852.3l5.35 6.3l-5.35 6.3l-5.35 -6.3z M291.2 850.9l5.35 6.3l-5.35 6.3l-5.35 -6.3z M300.7 850.7l5.35 6.3l-5.35 6.3l-5.35 -6.3z M310.2 855.3l5.35 6.3l-5.35 6.3l-5.35 -6.3z M319.6 859.3l5.35 6.3l-5.35 6.3l-5.35 -6.3z M329.1 861.7l5.35 6.3l-5.35 6.3l-5.35 -6.3z M338.6 863.7l5.35 6.3l-5.35 6.3l-5.35 -6.3z M348 866.1l5.35 6.3l-5.35 6.3l-5.35 -6.3z M357.5 868.7l5.35 6.3l-5.35 6.3l-5.35 -6.3z M367 871.1l5.35 6.3l-5.35 6.3l-5.35 -6.3z M376.4 871.1l5.35 6.3l-5.35 6.3l-5.35 -6.3z M385.9 871.7l5.35 6.3l-5.35 6.3l-5.35 -6.3z"/>
</g>
<text class="tk" x="64.1" y="906" text-anchor="middle">0</text>
<text class="tk" x="158.7" y="906" text-anchor="middle">0.2</text>
<text class="tk" x="253.3" y="906" text-anchor="middle">0.4</text>
<text class="tk" x="347.9" y="906" text-anchor="middle">0.6</text>
<text class="tk" x="442.5" y="906" text-anchor="middle">0.8</text>
<text class="tk" x="537.1" y="906" text-anchor="middle">1</text>
<text class="tk" x="56.5" y="858.2" text-anchor="end">460</text>
<text class="tk" x="56.5" y="800.2" text-anchor="end">470</text>
<text class="tk" x="56.5" y="742.1" text-anchor="end">480</text>
<text class="tk" x="56.5" y="684.1" text-anchor="end">490</text>
<text class="tk" x="56.5" y="626" text-anchor="end">500</text>
<text class="tk" x="56.5" y="568" text-anchor="end">510</text>
<text class="lb" x="301.5" y="931" text-anchor="middle">Time [s]</text>
<text class="lb" transform="translate(18.8,695.9) rotate(-90)" text-anchor="middle">Stress [MPa]</text>
<text class="tt" transform="translate(301.3,505.3)" text-anchor="middle">(b)</text>
<g id="legend-b">
<path d="M428.8 528.8l6.7 11.2h-13.4z" fill="#0072BD"/>
<circle cx="428.9" cy="556.9" r="5.05" fill="#FF5A0A"/>
<path d="M429.1 570.9l5.35 6.3l-5.35 6.3l-5.35 -6.3z" fill="#FF14B4"/>
<text class="lg" x="454.4" y="542.6" textLength="65.9" lengthAdjust="spacingAndGlyphs">100 nm/s</text>
<text class="lg" x="454.4" y="564.0" textLength="65.9" lengthAdjust="spacingAndGlyphs">400 nm/s</text>
<text class="lg" x="454.4" y="585.2" textLength="65.9" lengthAdjust="spacingAndGlyphs">800 nm/s</text>
</g>
</svg></body></html>
